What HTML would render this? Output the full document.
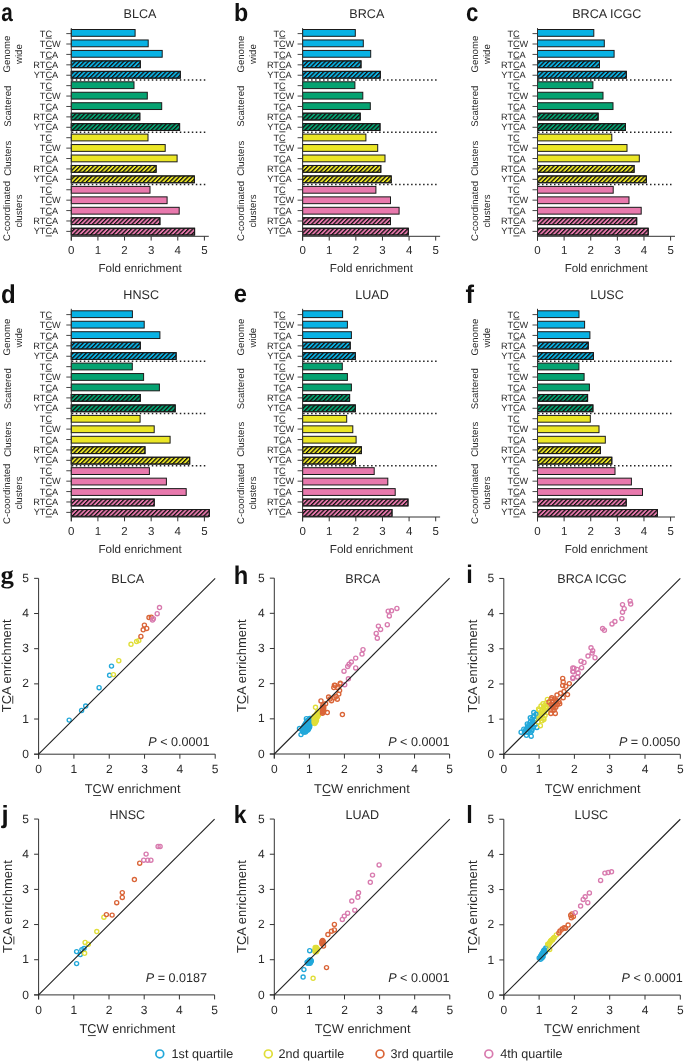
<!DOCTYPE html><html><head><meta charset="utf-8"><style>html,body{margin:0;padding:0;background:#fff;width:685px;height:1061px;overflow:hidden} svg{display:block;will-change:transform} text{font-family:"Liberation Sans", sans-serif;fill:#2a2a2a;text-rendering:geometricPrecision} .bl{font-size:9.2px} .tk{font-size:11.5px} .ax{font-size:11.6px} .ti{font-size:12.6px} .gl{font-size:9.6px} .tk2{font-size:12px} .ti2{font-size:12.6px} .pv{font-size:12.6px} .ax2{font-size:12.75px} .ax3{font-size:12.95px} .lt{font-family:"Liberation Sans",sans-serif;font-weight:bold;font-size:25px;fill:#111} .lg{font-size:12.6px}</style></head><body>
<svg width="685" height="1061" viewBox="0 0 685 1061">
<defs><pattern id="hatch" patternUnits="userSpaceOnUse" width="3.1" height="3.1" patternTransform="rotate(45)"><rect x="0" y="0" width="1.3" height="3.1" fill="#111"/></pattern></defs>
<rect width="685" height="1061" fill="#fff"/>
<rect x="71.30" y="29.50" width="63.80" height="6.80" fill="#08b2e4" stroke="#1a1a1a" stroke-width="1"/>
<line x1="66.30" y1="33.60" x2="71.30" y2="33.60" stroke="#333" stroke-width="0.9"/>
<g transform="translate(45.40,36.70) scale(1,1.0)">
<text x="0" y="0" class="bl" text-anchor="end">T</text>
<text x="0" y="0" class="bl">C</text>
</g>
<rect x="45.60" y="37.70" width="6.2" height="0.9" fill="#333"/>
<rect x="71.30" y="39.96" width="76.90" height="6.80" fill="#08b2e4" stroke="#1a1a1a" stroke-width="1"/>
<line x1="66.30" y1="44.01" x2="71.30" y2="44.01" stroke="#333" stroke-width="0.9"/>
<g transform="translate(45.40,47.11) scale(1,1.0)">
<text x="0" y="0" class="bl" text-anchor="end">T</text>
<text x="0" y="0" class="bl">C</text>
<text x="6.5" y="0" class="bl">W</text>
</g>
<rect x="45.60" y="48.11" width="6.2" height="0.9" fill="#333"/>
<rect x="71.30" y="50.42" width="90.90" height="6.80" fill="#08b2e4" stroke="#1a1a1a" stroke-width="1"/>
<line x1="66.30" y1="54.42" x2="71.30" y2="54.42" stroke="#333" stroke-width="0.9"/>
<g transform="translate(45.40,57.52) scale(1,1.0)">
<text x="0" y="0" class="bl" text-anchor="end">T</text>
<text x="0" y="0" class="bl">C</text>
<text x="6.5" y="0" class="bl">A</text>
</g>
<rect x="45.60" y="58.52" width="6.2" height="0.9" fill="#333"/>
<rect x="71.30" y="60.88" width="69.00" height="6.80" fill="#08b2e4" stroke="#1a1a1a" stroke-width="1"/>
<rect x="71.30" y="60.88" width="69.00" height="6.80" fill="url(#hatch)" stroke="#1a1a1a" stroke-width="1"/>
<line x1="66.30" y1="64.83" x2="71.30" y2="64.83" stroke="#333" stroke-width="0.9"/>
<g transform="translate(45.40,67.93) scale(1,1.0)">
<text x="0" y="0" class="bl" text-anchor="end">RT</text>
<text x="0" y="0" class="bl">C</text>
<text x="6.5" y="0" class="bl">A</text>
</g>
<rect x="45.60" y="68.93" width="6.2" height="0.9" fill="#333"/>
<rect x="71.30" y="71.34" width="109.00" height="6.80" fill="#08b2e4" stroke="#1a1a1a" stroke-width="1"/>
<rect x="71.30" y="71.34" width="109.00" height="6.80" fill="url(#hatch)" stroke="#1a1a1a" stroke-width="1"/>
<line x1="66.30" y1="75.24" x2="71.30" y2="75.24" stroke="#333" stroke-width="0.9"/>
<g transform="translate(45.40,78.34) scale(1,1.0)">
<text x="0" y="0" class="bl" text-anchor="end">YT</text>
<text x="0" y="0" class="bl">C</text>
<text x="6.5" y="0" class="bl">A</text>
</g>
<rect x="45.60" y="79.34" width="6.2" height="0.9" fill="#333"/>
<rect x="71.30" y="81.80" width="62.70" height="6.80" fill="#05a271" stroke="#1a1a1a" stroke-width="1"/>
<line x1="66.30" y1="85.65" x2="71.30" y2="85.65" stroke="#333" stroke-width="0.9"/>
<g transform="translate(45.40,88.75) scale(1,1.0)">
<text x="0" y="0" class="bl" text-anchor="end">T</text>
<text x="0" y="0" class="bl">C</text>
</g>
<rect x="45.60" y="89.75" width="6.2" height="0.9" fill="#333"/>
<rect x="71.30" y="92.26" width="76.00" height="6.80" fill="#05a271" stroke="#1a1a1a" stroke-width="1"/>
<line x1="66.30" y1="96.06" x2="71.30" y2="96.06" stroke="#333" stroke-width="0.9"/>
<g transform="translate(45.40,99.16) scale(1,1.0)">
<text x="0" y="0" class="bl" text-anchor="end">T</text>
<text x="0" y="0" class="bl">C</text>
<text x="6.5" y="0" class="bl">W</text>
</g>
<rect x="45.60" y="100.16" width="6.2" height="0.9" fill="#333"/>
<rect x="71.30" y="102.72" width="90.40" height="6.80" fill="#05a271" stroke="#1a1a1a" stroke-width="1"/>
<line x1="66.30" y1="106.47" x2="71.30" y2="106.47" stroke="#333" stroke-width="0.9"/>
<g transform="translate(45.40,109.57) scale(1,1.0)">
<text x="0" y="0" class="bl" text-anchor="end">T</text>
<text x="0" y="0" class="bl">C</text>
<text x="6.5" y="0" class="bl">A</text>
</g>
<rect x="45.60" y="110.57" width="6.2" height="0.9" fill="#333"/>
<rect x="71.30" y="113.18" width="68.50" height="6.80" fill="#05a271" stroke="#1a1a1a" stroke-width="1"/>
<rect x="71.30" y="113.18" width="68.50" height="6.80" fill="url(#hatch)" stroke="#1a1a1a" stroke-width="1"/>
<line x1="66.30" y1="116.88" x2="71.30" y2="116.88" stroke="#333" stroke-width="0.9"/>
<g transform="translate(45.40,119.98) scale(1,1.0)">
<text x="0" y="0" class="bl" text-anchor="end">RT</text>
<text x="0" y="0" class="bl">C</text>
<text x="6.5" y="0" class="bl">A</text>
</g>
<rect x="45.60" y="120.98" width="6.2" height="0.9" fill="#333"/>
<rect x="71.30" y="123.64" width="108.30" height="6.80" fill="#05a271" stroke="#1a1a1a" stroke-width="1"/>
<rect x="71.30" y="123.64" width="108.30" height="6.80" fill="url(#hatch)" stroke="#1a1a1a" stroke-width="1"/>
<line x1="66.30" y1="127.29" x2="71.30" y2="127.29" stroke="#333" stroke-width="0.9"/>
<g transform="translate(45.40,130.39) scale(1,1.0)">
<text x="0" y="0" class="bl" text-anchor="end">YT</text>
<text x="0" y="0" class="bl">C</text>
<text x="6.5" y="0" class="bl">A</text>
</g>
<rect x="45.60" y="131.39" width="6.2" height="0.9" fill="#333"/>
<rect x="71.30" y="134.10" width="76.70" height="6.80" fill="#ebe626" stroke="#1a1a1a" stroke-width="1"/>
<line x1="66.30" y1="137.70" x2="71.30" y2="137.70" stroke="#333" stroke-width="0.9"/>
<g transform="translate(45.40,140.80) scale(1,1.0)">
<text x="0" y="0" class="bl" text-anchor="end">T</text>
<text x="0" y="0" class="bl">C</text>
</g>
<rect x="45.60" y="141.80" width="6.2" height="0.9" fill="#333"/>
<rect x="71.30" y="144.56" width="93.90" height="6.80" fill="#ebe626" stroke="#1a1a1a" stroke-width="1"/>
<line x1="66.30" y1="148.11" x2="71.30" y2="148.11" stroke="#333" stroke-width="0.9"/>
<g transform="translate(45.40,151.21) scale(1,1.0)">
<text x="0" y="0" class="bl" text-anchor="end">T</text>
<text x="0" y="0" class="bl">C</text>
<text x="6.5" y="0" class="bl">W</text>
</g>
<rect x="45.60" y="152.21" width="6.2" height="0.9" fill="#333"/>
<rect x="71.30" y="155.02" width="105.80" height="6.80" fill="#ebe626" stroke="#1a1a1a" stroke-width="1"/>
<line x1="66.30" y1="158.52" x2="71.30" y2="158.52" stroke="#333" stroke-width="0.9"/>
<g transform="translate(45.40,161.62) scale(1,1.0)">
<text x="0" y="0" class="bl" text-anchor="end">T</text>
<text x="0" y="0" class="bl">C</text>
<text x="6.5" y="0" class="bl">A</text>
</g>
<rect x="45.60" y="162.62" width="6.2" height="0.9" fill="#333"/>
<rect x="71.30" y="165.48" width="84.80" height="6.80" fill="#ebe626" stroke="#1a1a1a" stroke-width="1"/>
<rect x="71.30" y="165.48" width="84.80" height="6.80" fill="url(#hatch)" stroke="#1a1a1a" stroke-width="1"/>
<line x1="66.30" y1="168.93" x2="71.30" y2="168.93" stroke="#333" stroke-width="0.9"/>
<g transform="translate(45.40,172.03) scale(1,1.0)">
<text x="0" y="0" class="bl" text-anchor="end">RT</text>
<text x="0" y="0" class="bl">C</text>
<text x="6.5" y="0" class="bl">A</text>
</g>
<rect x="45.60" y="173.03" width="6.2" height="0.9" fill="#333"/>
<rect x="71.30" y="175.94" width="123.00" height="6.80" fill="#ebe626" stroke="#1a1a1a" stroke-width="1"/>
<rect x="71.30" y="175.94" width="123.00" height="6.80" fill="url(#hatch)" stroke="#1a1a1a" stroke-width="1"/>
<line x1="66.30" y1="179.34" x2="71.30" y2="179.34" stroke="#333" stroke-width="0.9"/>
<g transform="translate(45.40,182.44) scale(1,1.0)">
<text x="0" y="0" class="bl" text-anchor="end">YT</text>
<text x="0" y="0" class="bl">C</text>
<text x="6.5" y="0" class="bl">A</text>
</g>
<rect x="45.60" y="183.44" width="6.2" height="0.9" fill="#333"/>
<rect x="71.30" y="186.40" width="78.70" height="6.80" fill="#e879ad" stroke="#1a1a1a" stroke-width="1"/>
<line x1="66.30" y1="189.75" x2="71.30" y2="189.75" stroke="#333" stroke-width="0.9"/>
<g transform="translate(45.40,192.85) scale(1,1.0)">
<text x="0" y="0" class="bl" text-anchor="end">T</text>
<text x="0" y="0" class="bl">C</text>
</g>
<rect x="45.60" y="193.85" width="6.2" height="0.9" fill="#333"/>
<rect x="71.30" y="196.86" width="95.80" height="6.80" fill="#e879ad" stroke="#1a1a1a" stroke-width="1"/>
<line x1="66.30" y1="200.16" x2="71.30" y2="200.16" stroke="#333" stroke-width="0.9"/>
<g transform="translate(45.40,203.26) scale(1,1.0)">
<text x="0" y="0" class="bl" text-anchor="end">T</text>
<text x="0" y="0" class="bl">C</text>
<text x="6.5" y="0" class="bl">W</text>
</g>
<rect x="45.60" y="204.26" width="6.2" height="0.9" fill="#333"/>
<rect x="71.30" y="207.32" width="107.90" height="6.80" fill="#e879ad" stroke="#1a1a1a" stroke-width="1"/>
<line x1="66.30" y1="210.57" x2="71.30" y2="210.57" stroke="#333" stroke-width="0.9"/>
<g transform="translate(45.40,213.67) scale(1,1.0)">
<text x="0" y="0" class="bl" text-anchor="end">T</text>
<text x="0" y="0" class="bl">C</text>
<text x="6.5" y="0" class="bl">A</text>
</g>
<rect x="45.60" y="214.67" width="6.2" height="0.9" fill="#333"/>
<rect x="71.30" y="217.78" width="88.60" height="6.80" fill="#e879ad" stroke="#1a1a1a" stroke-width="1"/>
<rect x="71.30" y="217.78" width="88.60" height="6.80" fill="url(#hatch)" stroke="#1a1a1a" stroke-width="1"/>
<line x1="66.30" y1="220.98" x2="71.30" y2="220.98" stroke="#333" stroke-width="0.9"/>
<g transform="translate(45.40,224.08) scale(1,1.0)">
<text x="0" y="0" class="bl" text-anchor="end">RT</text>
<text x="0" y="0" class="bl">C</text>
<text x="6.5" y="0" class="bl">A</text>
</g>
<rect x="45.60" y="225.08" width="6.2" height="0.9" fill="#333"/>
<rect x="71.30" y="228.24" width="123.30" height="6.80" fill="#e879ad" stroke="#1a1a1a" stroke-width="1"/>
<rect x="71.30" y="228.24" width="123.30" height="6.80" fill="url(#hatch)" stroke="#1a1a1a" stroke-width="1"/>
<line x1="66.30" y1="231.39" x2="71.30" y2="231.39" stroke="#333" stroke-width="0.9"/>
<g transform="translate(45.40,234.49) scale(1,1.0)">
<text x="0" y="0" class="bl" text-anchor="end">YT</text>
<text x="0" y="0" class="bl">C</text>
<text x="6.5" y="0" class="bl">A</text>
</g>
<rect x="45.60" y="235.49" width="6.2" height="0.9" fill="#333"/>
<line x1="71.80" y1="79.90" x2="207.30" y2="79.90" stroke="#222" stroke-width="1.5" stroke-dasharray="1.5 2.5"/>
<line x1="71.80" y1="132.20" x2="207.30" y2="132.20" stroke="#222" stroke-width="1.5" stroke-dasharray="1.5 2.5"/>
<line x1="71.80" y1="184.50" x2="207.30" y2="184.50" stroke="#222" stroke-width="1.5" stroke-dasharray="1.5 2.5"/>
<line x1="71.30" y1="28.10" x2="71.30" y2="240.60" stroke="#333" stroke-width="1"/>
<line x1="71.30" y1="236.30" x2="208.80" y2="236.30" stroke="#333" stroke-width="1"/>
<line x1="71.30" y1="236.30" x2="71.30" y2="240.60" stroke="#333" stroke-width="1"/>
<text x="71.30" y="254.30" class="tk" text-anchor="middle">0</text>
<line x1="97.92" y1="236.30" x2="97.92" y2="240.60" stroke="#333" stroke-width="1"/>
<text x="97.92" y="254.30" class="tk" text-anchor="middle">1</text>
<line x1="124.54" y1="236.30" x2="124.54" y2="240.60" stroke="#333" stroke-width="1"/>
<text x="124.54" y="254.30" class="tk" text-anchor="middle">2</text>
<line x1="151.16" y1="236.30" x2="151.16" y2="240.60" stroke="#333" stroke-width="1"/>
<text x="151.16" y="254.30" class="tk" text-anchor="middle">3</text>
<line x1="177.78" y1="236.30" x2="177.78" y2="240.60" stroke="#333" stroke-width="1"/>
<text x="177.78" y="254.30" class="tk" text-anchor="middle">4</text>
<line x1="204.40" y1="236.30" x2="204.40" y2="240.60" stroke="#333" stroke-width="1"/>
<text x="204.40" y="254.30" class="tk" text-anchor="middle">5</text>
<text x="140.10" y="272.30" class="ax" text-anchor="middle">Fold enrichment</text>
<text x="140.00" y="17.50" class="ti" text-anchor="middle">BLCA</text>
<text transform="translate(10.40,54.12) rotate(-90)" class="gl" text-anchor="middle">Genome</text>
<text transform="translate(21.90,54.12) rotate(-90)" class="gl" text-anchor="middle">wide</text>
<text transform="translate(10.60,106.17) rotate(-90)" class="gl" text-anchor="middle">Scattered</text>
<text transform="translate(10.60,158.22) rotate(-90)" class="gl" text-anchor="middle">Clusters</text>
<text transform="translate(10.40,210.97) rotate(-90)" class="gl" text-anchor="middle">C-coordinated</text>
<text transform="translate(21.90,211.07) rotate(-90)" class="gl" text-anchor="middle">clusters</text>
<rect x="302.60" y="29.50" width="52.70" height="6.80" fill="#08b2e4" stroke="#1a1a1a" stroke-width="1"/>
<line x1="297.60" y1="33.60" x2="302.60" y2="33.60" stroke="#333" stroke-width="0.9"/>
<g transform="translate(279.00,36.70) scale(1,1.0)">
<text x="0" y="0" class="bl" text-anchor="end">T</text>
<text x="0" y="0" class="bl">C</text>
</g>
<rect x="279.20" y="37.70" width="6.2" height="0.9" fill="#333"/>
<rect x="302.60" y="39.96" width="60.70" height="6.80" fill="#08b2e4" stroke="#1a1a1a" stroke-width="1"/>
<line x1="297.60" y1="44.01" x2="302.60" y2="44.01" stroke="#333" stroke-width="0.9"/>
<g transform="translate(279.00,47.11) scale(1,1.0)">
<text x="0" y="0" class="bl" text-anchor="end">T</text>
<text x="0" y="0" class="bl">C</text>
<text x="6.5" y="0" class="bl">W</text>
</g>
<rect x="279.20" y="48.11" width="6.2" height="0.9" fill="#333"/>
<rect x="302.60" y="50.42" width="68.10" height="6.80" fill="#08b2e4" stroke="#1a1a1a" stroke-width="1"/>
<line x1="297.60" y1="54.42" x2="302.60" y2="54.42" stroke="#333" stroke-width="0.9"/>
<g transform="translate(279.00,57.52) scale(1,1.0)">
<text x="0" y="0" class="bl" text-anchor="end">T</text>
<text x="0" y="0" class="bl">C</text>
<text x="6.5" y="0" class="bl">A</text>
</g>
<rect x="279.20" y="58.52" width="6.2" height="0.9" fill="#333"/>
<rect x="302.60" y="60.88" width="58.40" height="6.80" fill="#08b2e4" stroke="#1a1a1a" stroke-width="1"/>
<rect x="302.60" y="60.88" width="58.40" height="6.80" fill="url(#hatch)" stroke="#1a1a1a" stroke-width="1"/>
<line x1="297.60" y1="64.83" x2="302.60" y2="64.83" stroke="#333" stroke-width="0.9"/>
<g transform="translate(279.00,67.93) scale(1,1.0)">
<text x="0" y="0" class="bl" text-anchor="end">RT</text>
<text x="0" y="0" class="bl">C</text>
<text x="6.5" y="0" class="bl">A</text>
</g>
<rect x="279.20" y="68.93" width="6.2" height="0.9" fill="#333"/>
<rect x="302.60" y="71.34" width="77.70" height="6.80" fill="#08b2e4" stroke="#1a1a1a" stroke-width="1"/>
<rect x="302.60" y="71.34" width="77.70" height="6.80" fill="url(#hatch)" stroke="#1a1a1a" stroke-width="1"/>
<line x1="297.60" y1="75.24" x2="302.60" y2="75.24" stroke="#333" stroke-width="0.9"/>
<g transform="translate(279.00,78.34) scale(1,1.0)">
<text x="0" y="0" class="bl" text-anchor="end">YT</text>
<text x="0" y="0" class="bl">C</text>
<text x="6.5" y="0" class="bl">A</text>
</g>
<rect x="279.20" y="79.34" width="6.2" height="0.9" fill="#333"/>
<rect x="302.60" y="81.80" width="52.30" height="6.80" fill="#05a271" stroke="#1a1a1a" stroke-width="1"/>
<line x1="297.60" y1="85.65" x2="302.60" y2="85.65" stroke="#333" stroke-width="0.9"/>
<g transform="translate(279.00,88.75) scale(1,1.0)">
<text x="0" y="0" class="bl" text-anchor="end">T</text>
<text x="0" y="0" class="bl">C</text>
</g>
<rect x="279.20" y="89.75" width="6.2" height="0.9" fill="#333"/>
<rect x="302.60" y="92.26" width="60.20" height="6.80" fill="#05a271" stroke="#1a1a1a" stroke-width="1"/>
<line x1="297.60" y1="96.06" x2="302.60" y2="96.06" stroke="#333" stroke-width="0.9"/>
<g transform="translate(279.00,99.16) scale(1,1.0)">
<text x="0" y="0" class="bl" text-anchor="end">T</text>
<text x="0" y="0" class="bl">C</text>
<text x="6.5" y="0" class="bl">W</text>
</g>
<rect x="279.20" y="100.16" width="6.2" height="0.9" fill="#333"/>
<rect x="302.60" y="102.72" width="67.70" height="6.80" fill="#05a271" stroke="#1a1a1a" stroke-width="1"/>
<line x1="297.60" y1="106.47" x2="302.60" y2="106.47" stroke="#333" stroke-width="0.9"/>
<g transform="translate(279.00,109.57) scale(1,1.0)">
<text x="0" y="0" class="bl" text-anchor="end">T</text>
<text x="0" y="0" class="bl">C</text>
<text x="6.5" y="0" class="bl">A</text>
</g>
<rect x="279.20" y="110.57" width="6.2" height="0.9" fill="#333"/>
<rect x="302.60" y="113.18" width="57.60" height="6.80" fill="#05a271" stroke="#1a1a1a" stroke-width="1"/>
<rect x="302.60" y="113.18" width="57.60" height="6.80" fill="url(#hatch)" stroke="#1a1a1a" stroke-width="1"/>
<line x1="297.60" y1="116.88" x2="302.60" y2="116.88" stroke="#333" stroke-width="0.9"/>
<g transform="translate(279.00,119.98) scale(1,1.0)">
<text x="0" y="0" class="bl" text-anchor="end">RT</text>
<text x="0" y="0" class="bl">C</text>
<text x="6.5" y="0" class="bl">A</text>
</g>
<rect x="279.20" y="120.98" width="6.2" height="0.9" fill="#333"/>
<rect x="302.60" y="123.64" width="77.40" height="6.80" fill="#05a271" stroke="#1a1a1a" stroke-width="1"/>
<rect x="302.60" y="123.64" width="77.40" height="6.80" fill="url(#hatch)" stroke="#1a1a1a" stroke-width="1"/>
<line x1="297.60" y1="127.29" x2="302.60" y2="127.29" stroke="#333" stroke-width="0.9"/>
<g transform="translate(279.00,130.39) scale(1,1.0)">
<text x="0" y="0" class="bl" text-anchor="end">YT</text>
<text x="0" y="0" class="bl">C</text>
<text x="6.5" y="0" class="bl">A</text>
</g>
<rect x="279.20" y="131.39" width="6.2" height="0.9" fill="#333"/>
<rect x="302.60" y="134.10" width="63.30" height="6.80" fill="#ebe626" stroke="#1a1a1a" stroke-width="1"/>
<line x1="297.60" y1="137.70" x2="302.60" y2="137.70" stroke="#333" stroke-width="0.9"/>
<g transform="translate(279.00,140.80) scale(1,1.0)">
<text x="0" y="0" class="bl" text-anchor="end">T</text>
<text x="0" y="0" class="bl">C</text>
</g>
<rect x="279.20" y="141.80" width="6.2" height="0.9" fill="#333"/>
<rect x="302.60" y="144.56" width="75.10" height="6.80" fill="#ebe626" stroke="#1a1a1a" stroke-width="1"/>
<line x1="297.60" y1="148.11" x2="302.60" y2="148.11" stroke="#333" stroke-width="0.9"/>
<g transform="translate(279.00,151.21) scale(1,1.0)">
<text x="0" y="0" class="bl" text-anchor="end">T</text>
<text x="0" y="0" class="bl">C</text>
<text x="6.5" y="0" class="bl">W</text>
</g>
<rect x="279.20" y="152.21" width="6.2" height="0.9" fill="#333"/>
<rect x="302.60" y="155.02" width="82.40" height="6.80" fill="#ebe626" stroke="#1a1a1a" stroke-width="1"/>
<line x1="297.60" y1="158.52" x2="302.60" y2="158.52" stroke="#333" stroke-width="0.9"/>
<g transform="translate(279.00,161.62) scale(1,1.0)">
<text x="0" y="0" class="bl" text-anchor="end">T</text>
<text x="0" y="0" class="bl">C</text>
<text x="6.5" y="0" class="bl">A</text>
</g>
<rect x="279.20" y="162.62" width="6.2" height="0.9" fill="#333"/>
<rect x="302.60" y="165.48" width="78.20" height="6.80" fill="#ebe626" stroke="#1a1a1a" stroke-width="1"/>
<rect x="302.60" y="165.48" width="78.20" height="6.80" fill="url(#hatch)" stroke="#1a1a1a" stroke-width="1"/>
<line x1="297.60" y1="168.93" x2="302.60" y2="168.93" stroke="#333" stroke-width="0.9"/>
<g transform="translate(279.00,172.03) scale(1,1.0)">
<text x="0" y="0" class="bl" text-anchor="end">RT</text>
<text x="0" y="0" class="bl">C</text>
<text x="6.5" y="0" class="bl">A</text>
</g>
<rect x="279.20" y="173.03" width="6.2" height="0.9" fill="#333"/>
<rect x="302.60" y="175.94" width="88.60" height="6.80" fill="#ebe626" stroke="#1a1a1a" stroke-width="1"/>
<rect x="302.60" y="175.94" width="88.60" height="6.80" fill="url(#hatch)" stroke="#1a1a1a" stroke-width="1"/>
<line x1="297.60" y1="179.34" x2="302.60" y2="179.34" stroke="#333" stroke-width="0.9"/>
<g transform="translate(279.00,182.44) scale(1,1.0)">
<text x="0" y="0" class="bl" text-anchor="end">YT</text>
<text x="0" y="0" class="bl">C</text>
<text x="6.5" y="0" class="bl">A</text>
</g>
<rect x="279.20" y="183.44" width="6.2" height="0.9" fill="#333"/>
<rect x="302.60" y="186.40" width="73.30" height="6.80" fill="#e879ad" stroke="#1a1a1a" stroke-width="1"/>
<line x1="297.60" y1="189.75" x2="302.60" y2="189.75" stroke="#333" stroke-width="0.9"/>
<g transform="translate(279.00,192.85) scale(1,1.0)">
<text x="0" y="0" class="bl" text-anchor="end">T</text>
<text x="0" y="0" class="bl">C</text>
</g>
<rect x="279.20" y="193.85" width="6.2" height="0.9" fill="#333"/>
<rect x="302.60" y="196.86" width="87.90" height="6.80" fill="#e879ad" stroke="#1a1a1a" stroke-width="1"/>
<line x1="297.60" y1="200.16" x2="302.60" y2="200.16" stroke="#333" stroke-width="0.9"/>
<g transform="translate(279.00,203.26) scale(1,1.0)">
<text x="0" y="0" class="bl" text-anchor="end">T</text>
<text x="0" y="0" class="bl">C</text>
<text x="6.5" y="0" class="bl">W</text>
</g>
<rect x="279.20" y="204.26" width="6.2" height="0.9" fill="#333"/>
<rect x="302.60" y="207.32" width="96.50" height="6.80" fill="#e879ad" stroke="#1a1a1a" stroke-width="1"/>
<line x1="297.60" y1="210.57" x2="302.60" y2="210.57" stroke="#333" stroke-width="0.9"/>
<g transform="translate(279.00,213.67) scale(1,1.0)">
<text x="0" y="0" class="bl" text-anchor="end">T</text>
<text x="0" y="0" class="bl">C</text>
<text x="6.5" y="0" class="bl">A</text>
</g>
<rect x="279.20" y="214.67" width="6.2" height="0.9" fill="#333"/>
<rect x="302.60" y="217.78" width="87.90" height="6.80" fill="#e879ad" stroke="#1a1a1a" stroke-width="1"/>
<rect x="302.60" y="217.78" width="87.90" height="6.80" fill="url(#hatch)" stroke="#1a1a1a" stroke-width="1"/>
<line x1="297.60" y1="220.98" x2="302.60" y2="220.98" stroke="#333" stroke-width="0.9"/>
<g transform="translate(279.00,224.08) scale(1,1.0)">
<text x="0" y="0" class="bl" text-anchor="end">RT</text>
<text x="0" y="0" class="bl">C</text>
<text x="6.5" y="0" class="bl">A</text>
</g>
<rect x="279.20" y="225.08" width="6.2" height="0.9" fill="#333"/>
<rect x="302.60" y="228.24" width="105.70" height="6.80" fill="#e879ad" stroke="#1a1a1a" stroke-width="1"/>
<rect x="302.60" y="228.24" width="105.70" height="6.80" fill="url(#hatch)" stroke="#1a1a1a" stroke-width="1"/>
<line x1="297.60" y1="231.39" x2="302.60" y2="231.39" stroke="#333" stroke-width="0.9"/>
<g transform="translate(279.00,234.49) scale(1,1.0)">
<text x="0" y="0" class="bl" text-anchor="end">YT</text>
<text x="0" y="0" class="bl">C</text>
<text x="6.5" y="0" class="bl">A</text>
</g>
<rect x="279.20" y="235.49" width="6.2" height="0.9" fill="#333"/>
<line x1="303.10" y1="79.90" x2="438.60" y2="79.90" stroke="#222" stroke-width="1.5" stroke-dasharray="1.5 2.5"/>
<line x1="303.10" y1="132.20" x2="438.60" y2="132.20" stroke="#222" stroke-width="1.5" stroke-dasharray="1.5 2.5"/>
<line x1="303.10" y1="184.50" x2="438.60" y2="184.50" stroke="#222" stroke-width="1.5" stroke-dasharray="1.5 2.5"/>
<line x1="302.60" y1="28.10" x2="302.60" y2="240.60" stroke="#333" stroke-width="1"/>
<line x1="302.60" y1="236.30" x2="440.10" y2="236.30" stroke="#333" stroke-width="1"/>
<line x1="302.60" y1="236.30" x2="302.60" y2="240.60" stroke="#333" stroke-width="1"/>
<text x="302.60" y="254.30" class="tk" text-anchor="middle">0</text>
<line x1="329.22" y1="236.30" x2="329.22" y2="240.60" stroke="#333" stroke-width="1"/>
<text x="329.22" y="254.30" class="tk" text-anchor="middle">1</text>
<line x1="355.84" y1="236.30" x2="355.84" y2="240.60" stroke="#333" stroke-width="1"/>
<text x="355.84" y="254.30" class="tk" text-anchor="middle">2</text>
<line x1="382.46" y1="236.30" x2="382.46" y2="240.60" stroke="#333" stroke-width="1"/>
<text x="382.46" y="254.30" class="tk" text-anchor="middle">3</text>
<line x1="409.08" y1="236.30" x2="409.08" y2="240.60" stroke="#333" stroke-width="1"/>
<text x="409.08" y="254.30" class="tk" text-anchor="middle">4</text>
<line x1="435.70" y1="236.30" x2="435.70" y2="240.60" stroke="#333" stroke-width="1"/>
<text x="435.70" y="254.30" class="tk" text-anchor="middle">5</text>
<text x="371.40" y="272.30" class="ax" text-anchor="middle">Fold enrichment</text>
<text x="366.80" y="17.50" class="ti" text-anchor="middle">BRCA</text>
<text transform="translate(244.00,54.12) rotate(-90)" class="gl" text-anchor="middle">Genome</text>
<text transform="translate(255.50,54.12) rotate(-90)" class="gl" text-anchor="middle">wide</text>
<text transform="translate(244.20,106.17) rotate(-90)" class="gl" text-anchor="middle">Scattered</text>
<text transform="translate(244.20,158.22) rotate(-90)" class="gl" text-anchor="middle">Clusters</text>
<text transform="translate(244.00,210.97) rotate(-90)" class="gl" text-anchor="middle">C-coordinated</text>
<text transform="translate(255.50,211.07) rotate(-90)" class="gl" text-anchor="middle">clusters</text>
<rect x="537.50" y="29.50" width="56.30" height="6.80" fill="#08b2e4" stroke="#1a1a1a" stroke-width="1"/>
<line x1="532.50" y1="33.60" x2="537.50" y2="33.60" stroke="#333" stroke-width="0.9"/>
<g transform="translate(513.10,36.70) scale(1,1.0)">
<text x="0" y="0" class="bl" text-anchor="end">T</text>
<text x="0" y="0" class="bl">C</text>
</g>
<rect x="513.30" y="37.70" width="6.2" height="0.9" fill="#333"/>
<rect x="537.50" y="39.96" width="66.80" height="6.80" fill="#08b2e4" stroke="#1a1a1a" stroke-width="1"/>
<line x1="532.50" y1="44.01" x2="537.50" y2="44.01" stroke="#333" stroke-width="0.9"/>
<g transform="translate(513.10,47.11) scale(1,1.0)">
<text x="0" y="0" class="bl" text-anchor="end">T</text>
<text x="0" y="0" class="bl">C</text>
<text x="6.5" y="0" class="bl">W</text>
</g>
<rect x="513.30" y="48.11" width="6.2" height="0.9" fill="#333"/>
<rect x="537.50" y="50.42" width="76.60" height="6.80" fill="#08b2e4" stroke="#1a1a1a" stroke-width="1"/>
<line x1="532.50" y1="54.42" x2="537.50" y2="54.42" stroke="#333" stroke-width="0.9"/>
<g transform="translate(513.10,57.52) scale(1,1.0)">
<text x="0" y="0" class="bl" text-anchor="end">T</text>
<text x="0" y="0" class="bl">C</text>
<text x="6.5" y="0" class="bl">A</text>
</g>
<rect x="513.30" y="58.52" width="6.2" height="0.9" fill="#333"/>
<rect x="537.50" y="60.88" width="62.00" height="6.80" fill="#08b2e4" stroke="#1a1a1a" stroke-width="1"/>
<rect x="537.50" y="60.88" width="62.00" height="6.80" fill="url(#hatch)" stroke="#1a1a1a" stroke-width="1"/>
<line x1="532.50" y1="64.83" x2="537.50" y2="64.83" stroke="#333" stroke-width="0.9"/>
<g transform="translate(513.10,67.93) scale(1,1.0)">
<text x="0" y="0" class="bl" text-anchor="end">RT</text>
<text x="0" y="0" class="bl">C</text>
<text x="6.5" y="0" class="bl">A</text>
</g>
<rect x="513.30" y="68.93" width="6.2" height="0.9" fill="#333"/>
<rect x="537.50" y="71.34" width="88.80" height="6.80" fill="#08b2e4" stroke="#1a1a1a" stroke-width="1"/>
<rect x="537.50" y="71.34" width="88.80" height="6.80" fill="url(#hatch)" stroke="#1a1a1a" stroke-width="1"/>
<line x1="532.50" y1="75.24" x2="537.50" y2="75.24" stroke="#333" stroke-width="0.9"/>
<g transform="translate(513.10,78.34) scale(1,1.0)">
<text x="0" y="0" class="bl" text-anchor="end">YT</text>
<text x="0" y="0" class="bl">C</text>
<text x="6.5" y="0" class="bl">A</text>
</g>
<rect x="513.30" y="79.34" width="6.2" height="0.9" fill="#333"/>
<rect x="537.50" y="81.80" width="55.40" height="6.80" fill="#05a271" stroke="#1a1a1a" stroke-width="1"/>
<line x1="532.50" y1="85.65" x2="537.50" y2="85.65" stroke="#333" stroke-width="0.9"/>
<g transform="translate(513.10,88.75) scale(1,1.0)">
<text x="0" y="0" class="bl" text-anchor="end">T</text>
<text x="0" y="0" class="bl">C</text>
</g>
<rect x="513.30" y="89.75" width="6.2" height="0.9" fill="#333"/>
<rect x="537.50" y="92.26" width="65.50" height="6.80" fill="#05a271" stroke="#1a1a1a" stroke-width="1"/>
<line x1="532.50" y1="96.06" x2="537.50" y2="96.06" stroke="#333" stroke-width="0.9"/>
<g transform="translate(513.10,99.16) scale(1,1.0)">
<text x="0" y="0" class="bl" text-anchor="end">T</text>
<text x="0" y="0" class="bl">C</text>
<text x="6.5" y="0" class="bl">W</text>
</g>
<rect x="513.30" y="100.16" width="6.2" height="0.9" fill="#333"/>
<rect x="537.50" y="102.72" width="75.50" height="6.80" fill="#05a271" stroke="#1a1a1a" stroke-width="1"/>
<line x1="532.50" y1="106.47" x2="537.50" y2="106.47" stroke="#333" stroke-width="0.9"/>
<g transform="translate(513.10,109.57) scale(1,1.0)">
<text x="0" y="0" class="bl" text-anchor="end">T</text>
<text x="0" y="0" class="bl">C</text>
<text x="6.5" y="0" class="bl">A</text>
</g>
<rect x="513.30" y="110.57" width="6.2" height="0.9" fill="#333"/>
<rect x="537.50" y="113.18" width="60.60" height="6.80" fill="#05a271" stroke="#1a1a1a" stroke-width="1"/>
<rect x="537.50" y="113.18" width="60.60" height="6.80" fill="url(#hatch)" stroke="#1a1a1a" stroke-width="1"/>
<line x1="532.50" y1="116.88" x2="537.50" y2="116.88" stroke="#333" stroke-width="0.9"/>
<g transform="translate(513.10,119.98) scale(1,1.0)">
<text x="0" y="0" class="bl" text-anchor="end">RT</text>
<text x="0" y="0" class="bl">C</text>
<text x="6.5" y="0" class="bl">A</text>
</g>
<rect x="513.30" y="120.98" width="6.2" height="0.9" fill="#333"/>
<rect x="537.50" y="123.64" width="88.00" height="6.80" fill="#05a271" stroke="#1a1a1a" stroke-width="1"/>
<rect x="537.50" y="123.64" width="88.00" height="6.80" fill="url(#hatch)" stroke="#1a1a1a" stroke-width="1"/>
<line x1="532.50" y1="127.29" x2="537.50" y2="127.29" stroke="#333" stroke-width="0.9"/>
<g transform="translate(513.10,130.39) scale(1,1.0)">
<text x="0" y="0" class="bl" text-anchor="end">YT</text>
<text x="0" y="0" class="bl">C</text>
<text x="6.5" y="0" class="bl">A</text>
</g>
<rect x="513.30" y="131.39" width="6.2" height="0.9" fill="#333"/>
<rect x="537.50" y="134.10" width="74.30" height="6.80" fill="#ebe626" stroke="#1a1a1a" stroke-width="1"/>
<line x1="532.50" y1="137.70" x2="537.50" y2="137.70" stroke="#333" stroke-width="0.9"/>
<g transform="translate(513.10,140.80) scale(1,1.0)">
<text x="0" y="0" class="bl" text-anchor="end">T</text>
<text x="0" y="0" class="bl">C</text>
</g>
<rect x="513.30" y="141.80" width="6.2" height="0.9" fill="#333"/>
<rect x="537.50" y="144.56" width="89.50" height="6.80" fill="#ebe626" stroke="#1a1a1a" stroke-width="1"/>
<line x1="532.50" y1="148.11" x2="537.50" y2="148.11" stroke="#333" stroke-width="0.9"/>
<g transform="translate(513.10,151.21) scale(1,1.0)">
<text x="0" y="0" class="bl" text-anchor="end">T</text>
<text x="0" y="0" class="bl">C</text>
<text x="6.5" y="0" class="bl">W</text>
</g>
<rect x="513.30" y="152.21" width="6.2" height="0.9" fill="#333"/>
<rect x="537.50" y="155.02" width="101.80" height="6.80" fill="#ebe626" stroke="#1a1a1a" stroke-width="1"/>
<line x1="532.50" y1="158.52" x2="537.50" y2="158.52" stroke="#333" stroke-width="0.9"/>
<g transform="translate(513.10,161.62) scale(1,1.0)">
<text x="0" y="0" class="bl" text-anchor="end">T</text>
<text x="0" y="0" class="bl">C</text>
<text x="6.5" y="0" class="bl">A</text>
</g>
<rect x="513.30" y="162.62" width="6.2" height="0.9" fill="#333"/>
<rect x="537.50" y="165.48" width="96.60" height="6.80" fill="#ebe626" stroke="#1a1a1a" stroke-width="1"/>
<rect x="537.50" y="165.48" width="96.60" height="6.80" fill="url(#hatch)" stroke="#1a1a1a" stroke-width="1"/>
<line x1="532.50" y1="168.93" x2="537.50" y2="168.93" stroke="#333" stroke-width="0.9"/>
<g transform="translate(513.10,172.03) scale(1,1.0)">
<text x="0" y="0" class="bl" text-anchor="end">RT</text>
<text x="0" y="0" class="bl">C</text>
<text x="6.5" y="0" class="bl">A</text>
</g>
<rect x="513.30" y="173.03" width="6.2" height="0.9" fill="#333"/>
<rect x="537.50" y="175.94" width="108.80" height="6.80" fill="#ebe626" stroke="#1a1a1a" stroke-width="1"/>
<rect x="537.50" y="175.94" width="108.80" height="6.80" fill="url(#hatch)" stroke="#1a1a1a" stroke-width="1"/>
<line x1="532.50" y1="179.34" x2="537.50" y2="179.34" stroke="#333" stroke-width="0.9"/>
<g transform="translate(513.10,182.44) scale(1,1.0)">
<text x="0" y="0" class="bl" text-anchor="end">YT</text>
<text x="0" y="0" class="bl">C</text>
<text x="6.5" y="0" class="bl">A</text>
</g>
<rect x="513.30" y="183.44" width="6.2" height="0.9" fill="#333"/>
<rect x="537.50" y="186.40" width="75.70" height="6.80" fill="#e879ad" stroke="#1a1a1a" stroke-width="1"/>
<line x1="532.50" y1="189.75" x2="537.50" y2="189.75" stroke="#333" stroke-width="0.9"/>
<g transform="translate(513.10,192.85) scale(1,1.0)">
<text x="0" y="0" class="bl" text-anchor="end">T</text>
<text x="0" y="0" class="bl">C</text>
</g>
<rect x="513.30" y="193.85" width="6.2" height="0.9" fill="#333"/>
<rect x="537.50" y="196.86" width="91.50" height="6.80" fill="#e879ad" stroke="#1a1a1a" stroke-width="1"/>
<line x1="532.50" y1="200.16" x2="537.50" y2="200.16" stroke="#333" stroke-width="0.9"/>
<g transform="translate(513.10,203.26) scale(1,1.0)">
<text x="0" y="0" class="bl" text-anchor="end">T</text>
<text x="0" y="0" class="bl">C</text>
<text x="6.5" y="0" class="bl">W</text>
</g>
<rect x="513.30" y="204.26" width="6.2" height="0.9" fill="#333"/>
<rect x="537.50" y="207.32" width="103.70" height="6.80" fill="#e879ad" stroke="#1a1a1a" stroke-width="1"/>
<line x1="532.50" y1="210.57" x2="537.50" y2="210.57" stroke="#333" stroke-width="0.9"/>
<g transform="translate(513.10,213.67) scale(1,1.0)">
<text x="0" y="0" class="bl" text-anchor="end">T</text>
<text x="0" y="0" class="bl">C</text>
<text x="6.5" y="0" class="bl">A</text>
</g>
<rect x="513.30" y="214.67" width="6.2" height="0.9" fill="#333"/>
<rect x="537.50" y="217.78" width="99.20" height="6.80" fill="#e879ad" stroke="#1a1a1a" stroke-width="1"/>
<rect x="537.50" y="217.78" width="99.20" height="6.80" fill="url(#hatch)" stroke="#1a1a1a" stroke-width="1"/>
<line x1="532.50" y1="220.98" x2="537.50" y2="220.98" stroke="#333" stroke-width="0.9"/>
<g transform="translate(513.10,224.08) scale(1,1.0)">
<text x="0" y="0" class="bl" text-anchor="end">RT</text>
<text x="0" y="0" class="bl">C</text>
<text x="6.5" y="0" class="bl">A</text>
</g>
<rect x="513.30" y="225.08" width="6.2" height="0.9" fill="#333"/>
<rect x="537.50" y="228.24" width="110.70" height="6.80" fill="#e879ad" stroke="#1a1a1a" stroke-width="1"/>
<rect x="537.50" y="228.24" width="110.70" height="6.80" fill="url(#hatch)" stroke="#1a1a1a" stroke-width="1"/>
<line x1="532.50" y1="231.39" x2="537.50" y2="231.39" stroke="#333" stroke-width="0.9"/>
<g transform="translate(513.10,234.49) scale(1,1.0)">
<text x="0" y="0" class="bl" text-anchor="end">YT</text>
<text x="0" y="0" class="bl">C</text>
<text x="6.5" y="0" class="bl">A</text>
</g>
<rect x="513.30" y="235.49" width="6.2" height="0.9" fill="#333"/>
<line x1="538.00" y1="79.90" x2="673.50" y2="79.90" stroke="#222" stroke-width="1.5" stroke-dasharray="1.5 2.5"/>
<line x1="538.00" y1="132.20" x2="673.50" y2="132.20" stroke="#222" stroke-width="1.5" stroke-dasharray="1.5 2.5"/>
<line x1="538.00" y1="184.50" x2="673.50" y2="184.50" stroke="#222" stroke-width="1.5" stroke-dasharray="1.5 2.5"/>
<line x1="537.50" y1="28.10" x2="537.50" y2="240.60" stroke="#333" stroke-width="1"/>
<line x1="537.50" y1="236.30" x2="675.00" y2="236.30" stroke="#333" stroke-width="1"/>
<line x1="537.50" y1="236.30" x2="537.50" y2="240.60" stroke="#333" stroke-width="1"/>
<text x="537.50" y="254.30" class="tk" text-anchor="middle">0</text>
<line x1="564.12" y1="236.30" x2="564.12" y2="240.60" stroke="#333" stroke-width="1"/>
<text x="564.12" y="254.30" class="tk" text-anchor="middle">1</text>
<line x1="590.74" y1="236.30" x2="590.74" y2="240.60" stroke="#333" stroke-width="1"/>
<text x="590.74" y="254.30" class="tk" text-anchor="middle">2</text>
<line x1="617.36" y1="236.30" x2="617.36" y2="240.60" stroke="#333" stroke-width="1"/>
<text x="617.36" y="254.30" class="tk" text-anchor="middle">3</text>
<line x1="643.98" y1="236.30" x2="643.98" y2="240.60" stroke="#333" stroke-width="1"/>
<text x="643.98" y="254.30" class="tk" text-anchor="middle">4</text>
<line x1="670.60" y1="236.30" x2="670.60" y2="240.60" stroke="#333" stroke-width="1"/>
<text x="670.60" y="254.30" class="tk" text-anchor="middle">5</text>
<text x="606.30" y="272.30" class="ax" text-anchor="middle">Fold enrichment</text>
<text x="606.80" y="17.50" class="ti" text-anchor="middle">BRCA ICGC</text>
<text transform="translate(478.10,54.12) rotate(-90)" class="gl" text-anchor="middle">Genome</text>
<text transform="translate(489.60,54.12) rotate(-90)" class="gl" text-anchor="middle">wide</text>
<text transform="translate(478.30,106.17) rotate(-90)" class="gl" text-anchor="middle">Scattered</text>
<text transform="translate(478.30,158.22) rotate(-90)" class="gl" text-anchor="middle">Clusters</text>
<text transform="translate(478.10,210.97) rotate(-90)" class="gl" text-anchor="middle">C-coordinated</text>
<text transform="translate(489.60,211.07) rotate(-90)" class="gl" text-anchor="middle">clusters</text>
<rect x="71.30" y="310.80" width="61.10" height="6.80" fill="#08b2e4" stroke="#1a1a1a" stroke-width="1"/>
<line x1="66.30" y1="314.60" x2="71.30" y2="314.60" stroke="#333" stroke-width="0.9"/>
<g transform="translate(45.40,317.70) scale(1,1.0)">
<text x="0" y="0" class="bl" text-anchor="end">T</text>
<text x="0" y="0" class="bl">C</text>
</g>
<rect x="45.60" y="318.70" width="6.2" height="0.9" fill="#333"/>
<rect x="71.30" y="321.26" width="72.90" height="6.80" fill="#08b2e4" stroke="#1a1a1a" stroke-width="1"/>
<line x1="66.30" y1="325.01" x2="71.30" y2="325.01" stroke="#333" stroke-width="0.9"/>
<g transform="translate(45.40,328.11) scale(1,1.0)">
<text x="0" y="0" class="bl" text-anchor="end">T</text>
<text x="0" y="0" class="bl">C</text>
<text x="6.5" y="0" class="bl">W</text>
</g>
<rect x="45.60" y="329.11" width="6.2" height="0.9" fill="#333"/>
<rect x="71.30" y="331.72" width="88.60" height="6.80" fill="#08b2e4" stroke="#1a1a1a" stroke-width="1"/>
<line x1="66.30" y1="335.42" x2="71.30" y2="335.42" stroke="#333" stroke-width="0.9"/>
<g transform="translate(45.40,338.52) scale(1,1.0)">
<text x="0" y="0" class="bl" text-anchor="end">T</text>
<text x="0" y="0" class="bl">C</text>
<text x="6.5" y="0" class="bl">A</text>
</g>
<rect x="45.60" y="339.52" width="6.2" height="0.9" fill="#333"/>
<rect x="71.30" y="342.18" width="69.00" height="6.80" fill="#08b2e4" stroke="#1a1a1a" stroke-width="1"/>
<rect x="71.30" y="342.18" width="69.00" height="6.80" fill="url(#hatch)" stroke="#1a1a1a" stroke-width="1"/>
<line x1="66.30" y1="345.83" x2="71.30" y2="345.83" stroke="#333" stroke-width="0.9"/>
<g transform="translate(45.40,348.93) scale(1,1.0)">
<text x="0" y="0" class="bl" text-anchor="end">RT</text>
<text x="0" y="0" class="bl">C</text>
<text x="6.5" y="0" class="bl">A</text>
</g>
<rect x="45.60" y="349.93" width="6.2" height="0.9" fill="#333"/>
<rect x="71.30" y="352.64" width="104.80" height="6.80" fill="#08b2e4" stroke="#1a1a1a" stroke-width="1"/>
<rect x="71.30" y="352.64" width="104.80" height="6.80" fill="url(#hatch)" stroke="#1a1a1a" stroke-width="1"/>
<line x1="66.30" y1="356.24" x2="71.30" y2="356.24" stroke="#333" stroke-width="0.9"/>
<g transform="translate(45.40,359.34) scale(1,1.0)">
<text x="0" y="0" class="bl" text-anchor="end">YT</text>
<text x="0" y="0" class="bl">C</text>
<text x="6.5" y="0" class="bl">A</text>
</g>
<rect x="45.60" y="360.34" width="6.2" height="0.9" fill="#333"/>
<rect x="71.30" y="363.10" width="61.00" height="6.80" fill="#05a271" stroke="#1a1a1a" stroke-width="1"/>
<line x1="66.30" y1="366.65" x2="71.30" y2="366.65" stroke="#333" stroke-width="0.9"/>
<g transform="translate(45.40,369.75) scale(1,1.0)">
<text x="0" y="0" class="bl" text-anchor="end">T</text>
<text x="0" y="0" class="bl">C</text>
</g>
<rect x="45.60" y="370.75" width="6.2" height="0.9" fill="#333"/>
<rect x="71.30" y="373.56" width="72.30" height="6.80" fill="#05a271" stroke="#1a1a1a" stroke-width="1"/>
<line x1="66.30" y1="377.06" x2="71.30" y2="377.06" stroke="#333" stroke-width="0.9"/>
<g transform="translate(45.40,380.16) scale(1,1.0)">
<text x="0" y="0" class="bl" text-anchor="end">T</text>
<text x="0" y="0" class="bl">C</text>
<text x="6.5" y="0" class="bl">W</text>
</g>
<rect x="45.60" y="381.16" width="6.2" height="0.9" fill="#333"/>
<rect x="71.30" y="384.02" width="88.10" height="6.80" fill="#05a271" stroke="#1a1a1a" stroke-width="1"/>
<line x1="66.30" y1="387.47" x2="71.30" y2="387.47" stroke="#333" stroke-width="0.9"/>
<g transform="translate(45.40,390.57) scale(1,1.0)">
<text x="0" y="0" class="bl" text-anchor="end">T</text>
<text x="0" y="0" class="bl">C</text>
<text x="6.5" y="0" class="bl">A</text>
</g>
<rect x="45.60" y="391.57" width="6.2" height="0.9" fill="#333"/>
<rect x="71.30" y="394.48" width="69.00" height="6.80" fill="#05a271" stroke="#1a1a1a" stroke-width="1"/>
<rect x="71.30" y="394.48" width="69.00" height="6.80" fill="url(#hatch)" stroke="#1a1a1a" stroke-width="1"/>
<line x1="66.30" y1="397.88" x2="71.30" y2="397.88" stroke="#333" stroke-width="0.9"/>
<g transform="translate(45.40,400.98) scale(1,1.0)">
<text x="0" y="0" class="bl" text-anchor="end">RT</text>
<text x="0" y="0" class="bl">C</text>
<text x="6.5" y="0" class="bl">A</text>
</g>
<rect x="45.60" y="401.98" width="6.2" height="0.9" fill="#333"/>
<rect x="71.30" y="404.94" width="103.90" height="6.80" fill="#05a271" stroke="#1a1a1a" stroke-width="1"/>
<rect x="71.30" y="404.94" width="103.90" height="6.80" fill="url(#hatch)" stroke="#1a1a1a" stroke-width="1"/>
<line x1="66.30" y1="408.29" x2="71.30" y2="408.29" stroke="#333" stroke-width="0.9"/>
<g transform="translate(45.40,411.39) scale(1,1.0)">
<text x="0" y="0" class="bl" text-anchor="end">YT</text>
<text x="0" y="0" class="bl">C</text>
<text x="6.5" y="0" class="bl">A</text>
</g>
<rect x="45.60" y="412.39" width="6.2" height="0.9" fill="#333"/>
<rect x="71.30" y="415.40" width="68.80" height="6.80" fill="#ebe626" stroke="#1a1a1a" stroke-width="1"/>
<line x1="66.30" y1="418.70" x2="71.30" y2="418.70" stroke="#333" stroke-width="0.9"/>
<g transform="translate(45.40,421.80) scale(1,1.0)">
<text x="0" y="0" class="bl" text-anchor="end">T</text>
<text x="0" y="0" class="bl">C</text>
</g>
<rect x="45.60" y="422.80" width="6.2" height="0.9" fill="#333"/>
<rect x="71.30" y="425.86" width="82.90" height="6.80" fill="#ebe626" stroke="#1a1a1a" stroke-width="1"/>
<line x1="66.30" y1="429.11" x2="71.30" y2="429.11" stroke="#333" stroke-width="0.9"/>
<g transform="translate(45.40,432.21) scale(1,1.0)">
<text x="0" y="0" class="bl" text-anchor="end">T</text>
<text x="0" y="0" class="bl">C</text>
<text x="6.5" y="0" class="bl">W</text>
</g>
<rect x="45.60" y="433.21" width="6.2" height="0.9" fill="#333"/>
<rect x="71.30" y="436.32" width="98.80" height="6.80" fill="#ebe626" stroke="#1a1a1a" stroke-width="1"/>
<line x1="66.30" y1="439.52" x2="71.30" y2="439.52" stroke="#333" stroke-width="0.9"/>
<g transform="translate(45.40,442.62) scale(1,1.0)">
<text x="0" y="0" class="bl" text-anchor="end">T</text>
<text x="0" y="0" class="bl">C</text>
<text x="6.5" y="0" class="bl">A</text>
</g>
<rect x="45.60" y="443.62" width="6.2" height="0.9" fill="#333"/>
<rect x="71.30" y="446.78" width="73.70" height="6.80" fill="#ebe626" stroke="#1a1a1a" stroke-width="1"/>
<rect x="71.30" y="446.78" width="73.70" height="6.80" fill="url(#hatch)" stroke="#1a1a1a" stroke-width="1"/>
<line x1="66.30" y1="449.93" x2="71.30" y2="449.93" stroke="#333" stroke-width="0.9"/>
<g transform="translate(45.40,453.03) scale(1,1.0)">
<text x="0" y="0" class="bl" text-anchor="end">RT</text>
<text x="0" y="0" class="bl">C</text>
<text x="6.5" y="0" class="bl">A</text>
</g>
<rect x="45.60" y="454.03" width="6.2" height="0.9" fill="#333"/>
<rect x="71.30" y="457.24" width="118.40" height="6.80" fill="#ebe626" stroke="#1a1a1a" stroke-width="1"/>
<rect x="71.30" y="457.24" width="118.40" height="6.80" fill="url(#hatch)" stroke="#1a1a1a" stroke-width="1"/>
<line x1="66.30" y1="460.34" x2="71.30" y2="460.34" stroke="#333" stroke-width="0.9"/>
<g transform="translate(45.40,463.44) scale(1,1.0)">
<text x="0" y="0" class="bl" text-anchor="end">YT</text>
<text x="0" y="0" class="bl">C</text>
<text x="6.5" y="0" class="bl">A</text>
</g>
<rect x="45.60" y="464.44" width="6.2" height="0.9" fill="#333"/>
<rect x="71.30" y="467.70" width="78.10" height="6.80" fill="#e879ad" stroke="#1a1a1a" stroke-width="1"/>
<line x1="66.30" y1="470.75" x2="71.30" y2="470.75" stroke="#333" stroke-width="0.9"/>
<g transform="translate(45.40,473.85) scale(1,1.0)">
<text x="0" y="0" class="bl" text-anchor="end">T</text>
<text x="0" y="0" class="bl">C</text>
</g>
<rect x="45.60" y="474.85" width="6.2" height="0.9" fill="#333"/>
<rect x="71.30" y="478.16" width="95.10" height="6.80" fill="#e879ad" stroke="#1a1a1a" stroke-width="1"/>
<line x1="66.30" y1="481.16" x2="71.30" y2="481.16" stroke="#333" stroke-width="0.9"/>
<g transform="translate(45.40,484.26) scale(1,1.0)">
<text x="0" y="0" class="bl" text-anchor="end">T</text>
<text x="0" y="0" class="bl">C</text>
<text x="6.5" y="0" class="bl">W</text>
</g>
<rect x="45.60" y="485.26" width="6.2" height="0.9" fill="#333"/>
<rect x="71.30" y="488.62" width="114.90" height="6.80" fill="#e879ad" stroke="#1a1a1a" stroke-width="1"/>
<line x1="66.30" y1="491.57" x2="71.30" y2="491.57" stroke="#333" stroke-width="0.9"/>
<g transform="translate(45.40,494.67) scale(1,1.0)">
<text x="0" y="0" class="bl" text-anchor="end">T</text>
<text x="0" y="0" class="bl">C</text>
<text x="6.5" y="0" class="bl">A</text>
</g>
<rect x="45.60" y="495.67" width="6.2" height="0.9" fill="#333"/>
<rect x="71.30" y="499.08" width="82.90" height="6.80" fill="#e879ad" stroke="#1a1a1a" stroke-width="1"/>
<rect x="71.30" y="499.08" width="82.90" height="6.80" fill="url(#hatch)" stroke="#1a1a1a" stroke-width="1"/>
<line x1="66.30" y1="501.98" x2="71.30" y2="501.98" stroke="#333" stroke-width="0.9"/>
<g transform="translate(45.40,505.08) scale(1,1.0)">
<text x="0" y="0" class="bl" text-anchor="end">RT</text>
<text x="0" y="0" class="bl">C</text>
<text x="6.5" y="0" class="bl">A</text>
</g>
<rect x="45.60" y="506.08" width="6.2" height="0.9" fill="#333"/>
<rect x="71.30" y="509.54" width="138.00" height="6.80" fill="#e879ad" stroke="#1a1a1a" stroke-width="1"/>
<rect x="71.30" y="509.54" width="138.00" height="6.80" fill="url(#hatch)" stroke="#1a1a1a" stroke-width="1"/>
<line x1="66.30" y1="512.39" x2="71.30" y2="512.39" stroke="#333" stroke-width="0.9"/>
<g transform="translate(45.40,515.49) scale(1,1.0)">
<text x="0" y="0" class="bl" text-anchor="end">YT</text>
<text x="0" y="0" class="bl">C</text>
<text x="6.5" y="0" class="bl">A</text>
</g>
<rect x="45.60" y="516.49" width="6.2" height="0.9" fill="#333"/>
<line x1="71.80" y1="361.20" x2="207.30" y2="361.20" stroke="#222" stroke-width="1.5" stroke-dasharray="1.5 2.5"/>
<line x1="71.80" y1="413.50" x2="207.30" y2="413.50" stroke="#222" stroke-width="1.5" stroke-dasharray="1.5 2.5"/>
<line x1="71.80" y1="465.80" x2="207.30" y2="465.80" stroke="#222" stroke-width="1.5" stroke-dasharray="1.5 2.5"/>
<line x1="71.30" y1="308.80" x2="71.30" y2="521.30" stroke="#333" stroke-width="1"/>
<line x1="71.30" y1="517.00" x2="208.80" y2="517.00" stroke="#333" stroke-width="1"/>
<line x1="71.30" y1="517.00" x2="71.30" y2="521.30" stroke="#333" stroke-width="1"/>
<text x="71.30" y="535.00" class="tk" text-anchor="middle">0</text>
<line x1="97.92" y1="517.00" x2="97.92" y2="521.30" stroke="#333" stroke-width="1"/>
<text x="97.92" y="535.00" class="tk" text-anchor="middle">1</text>
<line x1="124.54" y1="517.00" x2="124.54" y2="521.30" stroke="#333" stroke-width="1"/>
<text x="124.54" y="535.00" class="tk" text-anchor="middle">2</text>
<line x1="151.16" y1="517.00" x2="151.16" y2="521.30" stroke="#333" stroke-width="1"/>
<text x="151.16" y="535.00" class="tk" text-anchor="middle">3</text>
<line x1="177.78" y1="517.00" x2="177.78" y2="521.30" stroke="#333" stroke-width="1"/>
<text x="177.78" y="535.00" class="tk" text-anchor="middle">4</text>
<line x1="204.40" y1="517.00" x2="204.40" y2="521.30" stroke="#333" stroke-width="1"/>
<text x="204.40" y="535.00" class="tk" text-anchor="middle">5</text>
<text x="140.10" y="553.00" class="ax" text-anchor="middle">Fold enrichment</text>
<text x="141.20" y="298.80" class="ti" text-anchor="middle">HNSC</text>
<text transform="translate(10.40,337.12) rotate(-90)" class="gl" text-anchor="middle">Genome</text>
<text transform="translate(21.90,337.72) rotate(-90)" class="gl" text-anchor="middle">wide</text>
<text transform="translate(10.60,388.67) rotate(-90)" class="gl" text-anchor="middle">Scattered</text>
<text transform="translate(10.60,439.22) rotate(-90)" class="gl" text-anchor="middle">Clusters</text>
<text transform="translate(10.40,493.77) rotate(-90)" class="gl" text-anchor="middle">C-coordinated</text>
<text transform="translate(21.90,493.07) rotate(-90)" class="gl" text-anchor="middle">clusters</text>
<rect x="302.60" y="310.80" width="40.00" height="6.80" fill="#08b2e4" stroke="#1a1a1a" stroke-width="1"/>
<line x1="297.60" y1="314.60" x2="302.60" y2="314.60" stroke="#333" stroke-width="0.9"/>
<g transform="translate(279.00,317.70) scale(1,1.0)">
<text x="0" y="0" class="bl" text-anchor="end">T</text>
<text x="0" y="0" class="bl">C</text>
</g>
<rect x="279.20" y="318.70" width="6.2" height="0.9" fill="#333"/>
<rect x="302.60" y="321.26" width="44.80" height="6.80" fill="#08b2e4" stroke="#1a1a1a" stroke-width="1"/>
<line x1="297.60" y1="325.01" x2="302.60" y2="325.01" stroke="#333" stroke-width="0.9"/>
<g transform="translate(279.00,328.11) scale(1,1.0)">
<text x="0" y="0" class="bl" text-anchor="end">T</text>
<text x="0" y="0" class="bl">C</text>
<text x="6.5" y="0" class="bl">W</text>
</g>
<rect x="279.20" y="329.11" width="6.2" height="0.9" fill="#333"/>
<rect x="302.60" y="331.72" width="48.80" height="6.80" fill="#08b2e4" stroke="#1a1a1a" stroke-width="1"/>
<line x1="297.60" y1="335.42" x2="302.60" y2="335.42" stroke="#333" stroke-width="0.9"/>
<g transform="translate(279.00,338.52) scale(1,1.0)">
<text x="0" y="0" class="bl" text-anchor="end">T</text>
<text x="0" y="0" class="bl">C</text>
<text x="6.5" y="0" class="bl">A</text>
</g>
<rect x="279.20" y="339.52" width="6.2" height="0.9" fill="#333"/>
<rect x="302.60" y="342.18" width="47.60" height="6.80" fill="#08b2e4" stroke="#1a1a1a" stroke-width="1"/>
<rect x="302.60" y="342.18" width="47.60" height="6.80" fill="url(#hatch)" stroke="#1a1a1a" stroke-width="1"/>
<line x1="297.60" y1="345.83" x2="302.60" y2="345.83" stroke="#333" stroke-width="0.9"/>
<g transform="translate(279.00,348.93) scale(1,1.0)">
<text x="0" y="0" class="bl" text-anchor="end">RT</text>
<text x="0" y="0" class="bl">C</text>
<text x="6.5" y="0" class="bl">A</text>
</g>
<rect x="279.20" y="349.93" width="6.2" height="0.9" fill="#333"/>
<rect x="302.60" y="352.64" width="52.70" height="6.80" fill="#08b2e4" stroke="#1a1a1a" stroke-width="1"/>
<rect x="302.60" y="352.64" width="52.70" height="6.80" fill="url(#hatch)" stroke="#1a1a1a" stroke-width="1"/>
<line x1="297.60" y1="356.24" x2="302.60" y2="356.24" stroke="#333" stroke-width="0.9"/>
<g transform="translate(279.00,359.34) scale(1,1.0)">
<text x="0" y="0" class="bl" text-anchor="end">YT</text>
<text x="0" y="0" class="bl">C</text>
<text x="6.5" y="0" class="bl">A</text>
</g>
<rect x="279.20" y="360.34" width="6.2" height="0.9" fill="#333"/>
<rect x="302.60" y="363.10" width="39.70" height="6.80" fill="#05a271" stroke="#1a1a1a" stroke-width="1"/>
<line x1="297.60" y1="366.65" x2="302.60" y2="366.65" stroke="#333" stroke-width="0.9"/>
<g transform="translate(279.00,369.75) scale(1,1.0)">
<text x="0" y="0" class="bl" text-anchor="end">T</text>
<text x="0" y="0" class="bl">C</text>
</g>
<rect x="279.20" y="370.75" width="6.2" height="0.9" fill="#333"/>
<rect x="302.60" y="373.56" width="44.80" height="6.80" fill="#05a271" stroke="#1a1a1a" stroke-width="1"/>
<line x1="297.60" y1="377.06" x2="302.60" y2="377.06" stroke="#333" stroke-width="0.9"/>
<g transform="translate(279.00,380.16) scale(1,1.0)">
<text x="0" y="0" class="bl" text-anchor="end">T</text>
<text x="0" y="0" class="bl">C</text>
<text x="6.5" y="0" class="bl">W</text>
</g>
<rect x="279.20" y="381.16" width="6.2" height="0.9" fill="#333"/>
<rect x="302.60" y="384.02" width="48.80" height="6.80" fill="#05a271" stroke="#1a1a1a" stroke-width="1"/>
<line x1="297.60" y1="387.47" x2="302.60" y2="387.47" stroke="#333" stroke-width="0.9"/>
<g transform="translate(279.00,390.57) scale(1,1.0)">
<text x="0" y="0" class="bl" text-anchor="end">T</text>
<text x="0" y="0" class="bl">C</text>
<text x="6.5" y="0" class="bl">A</text>
</g>
<rect x="279.20" y="391.57" width="6.2" height="0.9" fill="#333"/>
<rect x="302.60" y="394.48" width="47.00" height="6.80" fill="#05a271" stroke="#1a1a1a" stroke-width="1"/>
<rect x="302.60" y="394.48" width="47.00" height="6.80" fill="url(#hatch)" stroke="#1a1a1a" stroke-width="1"/>
<line x1="297.60" y1="397.88" x2="302.60" y2="397.88" stroke="#333" stroke-width="0.9"/>
<g transform="translate(279.00,400.98) scale(1,1.0)">
<text x="0" y="0" class="bl" text-anchor="end">RT</text>
<text x="0" y="0" class="bl">C</text>
<text x="6.5" y="0" class="bl">A</text>
</g>
<rect x="279.20" y="401.98" width="6.2" height="0.9" fill="#333"/>
<rect x="302.60" y="404.94" width="52.70" height="6.80" fill="#05a271" stroke="#1a1a1a" stroke-width="1"/>
<rect x="302.60" y="404.94" width="52.70" height="6.80" fill="url(#hatch)" stroke="#1a1a1a" stroke-width="1"/>
<line x1="297.60" y1="408.29" x2="302.60" y2="408.29" stroke="#333" stroke-width="0.9"/>
<g transform="translate(279.00,411.39) scale(1,1.0)">
<text x="0" y="0" class="bl" text-anchor="end">YT</text>
<text x="0" y="0" class="bl">C</text>
<text x="6.5" y="0" class="bl">A</text>
</g>
<rect x="279.20" y="412.39" width="6.2" height="0.9" fill="#333"/>
<rect x="302.60" y="415.40" width="44.10" height="6.80" fill="#ebe626" stroke="#1a1a1a" stroke-width="1"/>
<line x1="297.60" y1="418.70" x2="302.60" y2="418.70" stroke="#333" stroke-width="0.9"/>
<g transform="translate(279.00,421.80) scale(1,1.0)">
<text x="0" y="0" class="bl" text-anchor="end">T</text>
<text x="0" y="0" class="bl">C</text>
</g>
<rect x="279.20" y="422.80" width="6.2" height="0.9" fill="#333"/>
<rect x="302.60" y="425.86" width="50.20" height="6.80" fill="#ebe626" stroke="#1a1a1a" stroke-width="1"/>
<line x1="297.60" y1="429.11" x2="302.60" y2="429.11" stroke="#333" stroke-width="0.9"/>
<g transform="translate(279.00,432.21) scale(1,1.0)">
<text x="0" y="0" class="bl" text-anchor="end">T</text>
<text x="0" y="0" class="bl">C</text>
<text x="6.5" y="0" class="bl">W</text>
</g>
<rect x="279.20" y="433.21" width="6.2" height="0.9" fill="#333"/>
<rect x="302.60" y="436.32" width="53.50" height="6.80" fill="#ebe626" stroke="#1a1a1a" stroke-width="1"/>
<line x1="297.60" y1="439.52" x2="302.60" y2="439.52" stroke="#333" stroke-width="0.9"/>
<g transform="translate(279.00,442.62) scale(1,1.0)">
<text x="0" y="0" class="bl" text-anchor="end">T</text>
<text x="0" y="0" class="bl">C</text>
<text x="6.5" y="0" class="bl">A</text>
</g>
<rect x="279.20" y="443.62" width="6.2" height="0.9" fill="#333"/>
<rect x="302.60" y="446.78" width="58.80" height="6.80" fill="#ebe626" stroke="#1a1a1a" stroke-width="1"/>
<rect x="302.60" y="446.78" width="58.80" height="6.80" fill="url(#hatch)" stroke="#1a1a1a" stroke-width="1"/>
<line x1="297.60" y1="449.93" x2="302.60" y2="449.93" stroke="#333" stroke-width="0.9"/>
<g transform="translate(279.00,453.03) scale(1,1.0)">
<text x="0" y="0" class="bl" text-anchor="end">RT</text>
<text x="0" y="0" class="bl">C</text>
<text x="6.5" y="0" class="bl">A</text>
</g>
<rect x="279.20" y="454.03" width="6.2" height="0.9" fill="#333"/>
<rect x="302.60" y="457.24" width="52.80" height="6.80" fill="#ebe626" stroke="#1a1a1a" stroke-width="1"/>
<rect x="302.60" y="457.24" width="52.80" height="6.80" fill="url(#hatch)" stroke="#1a1a1a" stroke-width="1"/>
<line x1="297.60" y1="460.34" x2="302.60" y2="460.34" stroke="#333" stroke-width="0.9"/>
<g transform="translate(279.00,463.44) scale(1,1.0)">
<text x="0" y="0" class="bl" text-anchor="end">YT</text>
<text x="0" y="0" class="bl">C</text>
<text x="6.5" y="0" class="bl">A</text>
</g>
<rect x="279.20" y="464.44" width="6.2" height="0.9" fill="#333"/>
<rect x="302.60" y="467.70" width="71.60" height="6.80" fill="#e879ad" stroke="#1a1a1a" stroke-width="1"/>
<line x1="297.60" y1="470.75" x2="302.60" y2="470.75" stroke="#333" stroke-width="0.9"/>
<g transform="translate(279.00,473.85) scale(1,1.0)">
<text x="0" y="0" class="bl" text-anchor="end">T</text>
<text x="0" y="0" class="bl">C</text>
</g>
<rect x="279.20" y="474.85" width="6.2" height="0.9" fill="#333"/>
<rect x="302.60" y="478.16" width="85.20" height="6.80" fill="#e879ad" stroke="#1a1a1a" stroke-width="1"/>
<line x1="297.60" y1="481.16" x2="302.60" y2="481.16" stroke="#333" stroke-width="0.9"/>
<g transform="translate(279.00,484.26) scale(1,1.0)">
<text x="0" y="0" class="bl" text-anchor="end">T</text>
<text x="0" y="0" class="bl">C</text>
<text x="6.5" y="0" class="bl">W</text>
</g>
<rect x="279.20" y="485.26" width="6.2" height="0.9" fill="#333"/>
<rect x="302.60" y="488.62" width="92.60" height="6.80" fill="#e879ad" stroke="#1a1a1a" stroke-width="1"/>
<line x1="297.60" y1="491.57" x2="302.60" y2="491.57" stroke="#333" stroke-width="0.9"/>
<g transform="translate(279.00,494.67) scale(1,1.0)">
<text x="0" y="0" class="bl" text-anchor="end">T</text>
<text x="0" y="0" class="bl">C</text>
<text x="6.5" y="0" class="bl">A</text>
</g>
<rect x="279.20" y="495.67" width="6.2" height="0.9" fill="#333"/>
<rect x="302.60" y="499.08" width="105.40" height="6.80" fill="#e879ad" stroke="#1a1a1a" stroke-width="1"/>
<rect x="302.60" y="499.08" width="105.40" height="6.80" fill="url(#hatch)" stroke="#1a1a1a" stroke-width="1"/>
<line x1="297.60" y1="501.98" x2="302.60" y2="501.98" stroke="#333" stroke-width="0.9"/>
<g transform="translate(279.00,505.08) scale(1,1.0)">
<text x="0" y="0" class="bl" text-anchor="end">RT</text>
<text x="0" y="0" class="bl">C</text>
<text x="6.5" y="0" class="bl">A</text>
</g>
<rect x="279.20" y="506.08" width="6.2" height="0.9" fill="#333"/>
<rect x="302.60" y="509.54" width="89.40" height="6.80" fill="#e879ad" stroke="#1a1a1a" stroke-width="1"/>
<rect x="302.60" y="509.54" width="89.40" height="6.80" fill="url(#hatch)" stroke="#1a1a1a" stroke-width="1"/>
<line x1="297.60" y1="512.39" x2="302.60" y2="512.39" stroke="#333" stroke-width="0.9"/>
<g transform="translate(279.00,515.49) scale(1,1.0)">
<text x="0" y="0" class="bl" text-anchor="end">YT</text>
<text x="0" y="0" class="bl">C</text>
<text x="6.5" y="0" class="bl">A</text>
</g>
<rect x="279.20" y="516.49" width="6.2" height="0.9" fill="#333"/>
<line x1="303.10" y1="361.20" x2="438.60" y2="361.20" stroke="#222" stroke-width="1.5" stroke-dasharray="1.5 2.5"/>
<line x1="303.10" y1="413.50" x2="438.60" y2="413.50" stroke="#222" stroke-width="1.5" stroke-dasharray="1.5 2.5"/>
<line x1="303.10" y1="465.80" x2="438.60" y2="465.80" stroke="#222" stroke-width="1.5" stroke-dasharray="1.5 2.5"/>
<line x1="302.60" y1="308.80" x2="302.60" y2="521.30" stroke="#333" stroke-width="1"/>
<line x1="302.60" y1="517.00" x2="440.10" y2="517.00" stroke="#333" stroke-width="1"/>
<line x1="302.60" y1="517.00" x2="302.60" y2="521.30" stroke="#333" stroke-width="1"/>
<text x="302.60" y="535.00" class="tk" text-anchor="middle">0</text>
<line x1="329.22" y1="517.00" x2="329.22" y2="521.30" stroke="#333" stroke-width="1"/>
<text x="329.22" y="535.00" class="tk" text-anchor="middle">1</text>
<line x1="355.84" y1="517.00" x2="355.84" y2="521.30" stroke="#333" stroke-width="1"/>
<text x="355.84" y="535.00" class="tk" text-anchor="middle">2</text>
<line x1="382.46" y1="517.00" x2="382.46" y2="521.30" stroke="#333" stroke-width="1"/>
<text x="382.46" y="535.00" class="tk" text-anchor="middle">3</text>
<line x1="409.08" y1="517.00" x2="409.08" y2="521.30" stroke="#333" stroke-width="1"/>
<text x="409.08" y="535.00" class="tk" text-anchor="middle">4</text>
<line x1="435.70" y1="517.00" x2="435.70" y2="521.30" stroke="#333" stroke-width="1"/>
<text x="435.70" y="535.00" class="tk" text-anchor="middle">5</text>
<text x="371.40" y="553.00" class="ax" text-anchor="middle">Fold enrichment</text>
<text x="372.00" y="298.80" class="ti" text-anchor="middle">LUAD</text>
<text transform="translate(244.00,337.12) rotate(-90)" class="gl" text-anchor="middle">Genome</text>
<text transform="translate(255.50,337.72) rotate(-90)" class="gl" text-anchor="middle">wide</text>
<text transform="translate(244.20,388.67) rotate(-90)" class="gl" text-anchor="middle">Scattered</text>
<text transform="translate(244.20,439.22) rotate(-90)" class="gl" text-anchor="middle">Clusters</text>
<text transform="translate(244.00,493.77) rotate(-90)" class="gl" text-anchor="middle">C-coordinated</text>
<text transform="translate(255.50,493.07) rotate(-90)" class="gl" text-anchor="middle">clusters</text>
<rect x="537.50" y="310.80" width="41.50" height="6.80" fill="#08b2e4" stroke="#1a1a1a" stroke-width="1"/>
<line x1="532.50" y1="314.60" x2="537.50" y2="314.60" stroke="#333" stroke-width="0.9"/>
<g transform="translate(513.10,317.70) scale(1,1.0)">
<text x="0" y="0" class="bl" text-anchor="end">T</text>
<text x="0" y="0" class="bl">C</text>
</g>
<rect x="513.30" y="318.70" width="6.2" height="0.9" fill="#333"/>
<rect x="537.50" y="321.26" width="47.10" height="6.80" fill="#08b2e4" stroke="#1a1a1a" stroke-width="1"/>
<line x1="532.50" y1="325.01" x2="537.50" y2="325.01" stroke="#333" stroke-width="0.9"/>
<g transform="translate(513.10,328.11) scale(1,1.0)">
<text x="0" y="0" class="bl" text-anchor="end">T</text>
<text x="0" y="0" class="bl">C</text>
<text x="6.5" y="0" class="bl">W</text>
</g>
<rect x="513.30" y="329.11" width="6.2" height="0.9" fill="#333"/>
<rect x="537.50" y="331.72" width="52.40" height="6.80" fill="#08b2e4" stroke="#1a1a1a" stroke-width="1"/>
<line x1="532.50" y1="335.42" x2="537.50" y2="335.42" stroke="#333" stroke-width="0.9"/>
<g transform="translate(513.10,338.52) scale(1,1.0)">
<text x="0" y="0" class="bl" text-anchor="end">T</text>
<text x="0" y="0" class="bl">C</text>
<text x="6.5" y="0" class="bl">A</text>
</g>
<rect x="513.30" y="339.52" width="6.2" height="0.9" fill="#333"/>
<rect x="537.50" y="342.18" width="50.70" height="6.80" fill="#08b2e4" stroke="#1a1a1a" stroke-width="1"/>
<rect x="537.50" y="342.18" width="50.70" height="6.80" fill="url(#hatch)" stroke="#1a1a1a" stroke-width="1"/>
<line x1="532.50" y1="345.83" x2="537.50" y2="345.83" stroke="#333" stroke-width="0.9"/>
<g transform="translate(513.10,348.93) scale(1,1.0)">
<text x="0" y="0" class="bl" text-anchor="end">RT</text>
<text x="0" y="0" class="bl">C</text>
<text x="6.5" y="0" class="bl">A</text>
</g>
<rect x="513.30" y="349.93" width="6.2" height="0.9" fill="#333"/>
<rect x="537.50" y="352.64" width="55.90" height="6.80" fill="#08b2e4" stroke="#1a1a1a" stroke-width="1"/>
<rect x="537.50" y="352.64" width="55.90" height="6.80" fill="url(#hatch)" stroke="#1a1a1a" stroke-width="1"/>
<line x1="532.50" y1="356.24" x2="537.50" y2="356.24" stroke="#333" stroke-width="0.9"/>
<g transform="translate(513.10,359.34) scale(1,1.0)">
<text x="0" y="0" class="bl" text-anchor="end">YT</text>
<text x="0" y="0" class="bl">C</text>
<text x="6.5" y="0" class="bl">A</text>
</g>
<rect x="513.30" y="360.34" width="6.2" height="0.9" fill="#333"/>
<rect x="537.50" y="363.10" width="41.40" height="6.80" fill="#05a271" stroke="#1a1a1a" stroke-width="1"/>
<line x1="532.50" y1="366.65" x2="537.50" y2="366.65" stroke="#333" stroke-width="0.9"/>
<g transform="translate(513.10,369.75) scale(1,1.0)">
<text x="0" y="0" class="bl" text-anchor="end">T</text>
<text x="0" y="0" class="bl">C</text>
</g>
<rect x="513.30" y="370.75" width="6.2" height="0.9" fill="#333"/>
<rect x="537.50" y="373.56" width="46.60" height="6.80" fill="#05a271" stroke="#1a1a1a" stroke-width="1"/>
<line x1="532.50" y1="377.06" x2="537.50" y2="377.06" stroke="#333" stroke-width="0.9"/>
<g transform="translate(513.10,380.16) scale(1,1.0)">
<text x="0" y="0" class="bl" text-anchor="end">T</text>
<text x="0" y="0" class="bl">C</text>
<text x="6.5" y="0" class="bl">W</text>
</g>
<rect x="513.30" y="381.16" width="6.2" height="0.9" fill="#333"/>
<rect x="537.50" y="384.02" width="51.90" height="6.80" fill="#05a271" stroke="#1a1a1a" stroke-width="1"/>
<line x1="532.50" y1="387.47" x2="537.50" y2="387.47" stroke="#333" stroke-width="0.9"/>
<g transform="translate(513.10,390.57) scale(1,1.0)">
<text x="0" y="0" class="bl" text-anchor="end">T</text>
<text x="0" y="0" class="bl">C</text>
<text x="6.5" y="0" class="bl">A</text>
</g>
<rect x="513.30" y="391.57" width="6.2" height="0.9" fill="#333"/>
<rect x="537.50" y="394.48" width="50.10" height="6.80" fill="#05a271" stroke="#1a1a1a" stroke-width="1"/>
<rect x="537.50" y="394.48" width="50.10" height="6.80" fill="url(#hatch)" stroke="#1a1a1a" stroke-width="1"/>
<line x1="532.50" y1="397.88" x2="537.50" y2="397.88" stroke="#333" stroke-width="0.9"/>
<g transform="translate(513.10,400.98) scale(1,1.0)">
<text x="0" y="0" class="bl" text-anchor="end">RT</text>
<text x="0" y="0" class="bl">C</text>
<text x="6.5" y="0" class="bl">A</text>
</g>
<rect x="513.30" y="401.98" width="6.2" height="0.9" fill="#333"/>
<rect x="537.50" y="404.94" width="55.40" height="6.80" fill="#05a271" stroke="#1a1a1a" stroke-width="1"/>
<rect x="537.50" y="404.94" width="55.40" height="6.80" fill="url(#hatch)" stroke="#1a1a1a" stroke-width="1"/>
<line x1="532.50" y1="408.29" x2="537.50" y2="408.29" stroke="#333" stroke-width="0.9"/>
<g transform="translate(513.10,411.39) scale(1,1.0)">
<text x="0" y="0" class="bl" text-anchor="end">YT</text>
<text x="0" y="0" class="bl">C</text>
<text x="6.5" y="0" class="bl">A</text>
</g>
<rect x="513.30" y="412.39" width="6.2" height="0.9" fill="#333"/>
<rect x="537.50" y="415.40" width="52.80" height="6.80" fill="#ebe626" stroke="#1a1a1a" stroke-width="1"/>
<line x1="532.50" y1="418.70" x2="537.50" y2="418.70" stroke="#333" stroke-width="0.9"/>
<g transform="translate(513.10,421.80) scale(1,1.0)">
<text x="0" y="0" class="bl" text-anchor="end">T</text>
<text x="0" y="0" class="bl">C</text>
</g>
<rect x="513.30" y="422.80" width="6.2" height="0.9" fill="#333"/>
<rect x="537.50" y="425.86" width="61.50" height="6.80" fill="#ebe626" stroke="#1a1a1a" stroke-width="1"/>
<line x1="532.50" y1="429.11" x2="537.50" y2="429.11" stroke="#333" stroke-width="0.9"/>
<g transform="translate(513.10,432.21) scale(1,1.0)">
<text x="0" y="0" class="bl" text-anchor="end">T</text>
<text x="0" y="0" class="bl">C</text>
<text x="6.5" y="0" class="bl">W</text>
</g>
<rect x="513.30" y="433.21" width="6.2" height="0.9" fill="#333"/>
<rect x="537.50" y="436.32" width="67.80" height="6.80" fill="#ebe626" stroke="#1a1a1a" stroke-width="1"/>
<line x1="532.50" y1="439.52" x2="537.50" y2="439.52" stroke="#333" stroke-width="0.9"/>
<g transform="translate(513.10,442.62) scale(1,1.0)">
<text x="0" y="0" class="bl" text-anchor="end">T</text>
<text x="0" y="0" class="bl">C</text>
<text x="6.5" y="0" class="bl">A</text>
</g>
<rect x="513.30" y="443.62" width="6.2" height="0.9" fill="#333"/>
<rect x="537.50" y="446.78" width="62.90" height="6.80" fill="#ebe626" stroke="#1a1a1a" stroke-width="1"/>
<rect x="537.50" y="446.78" width="62.90" height="6.80" fill="url(#hatch)" stroke="#1a1a1a" stroke-width="1"/>
<line x1="532.50" y1="449.93" x2="537.50" y2="449.93" stroke="#333" stroke-width="0.9"/>
<g transform="translate(513.10,453.03) scale(1,1.0)">
<text x="0" y="0" class="bl" text-anchor="end">RT</text>
<text x="0" y="0" class="bl">C</text>
<text x="6.5" y="0" class="bl">A</text>
</g>
<rect x="513.30" y="454.03" width="6.2" height="0.9" fill="#333"/>
<rect x="537.50" y="457.24" width="74.30" height="6.80" fill="#ebe626" stroke="#1a1a1a" stroke-width="1"/>
<rect x="537.50" y="457.24" width="74.30" height="6.80" fill="url(#hatch)" stroke="#1a1a1a" stroke-width="1"/>
<line x1="532.50" y1="460.34" x2="537.50" y2="460.34" stroke="#333" stroke-width="0.9"/>
<g transform="translate(513.10,463.44) scale(1,1.0)">
<text x="0" y="0" class="bl" text-anchor="end">YT</text>
<text x="0" y="0" class="bl">C</text>
<text x="6.5" y="0" class="bl">A</text>
</g>
<rect x="513.30" y="464.44" width="6.2" height="0.9" fill="#333"/>
<rect x="537.50" y="467.70" width="77.50" height="6.80" fill="#e879ad" stroke="#1a1a1a" stroke-width="1"/>
<line x1="532.50" y1="470.75" x2="537.50" y2="470.75" stroke="#333" stroke-width="0.9"/>
<g transform="translate(513.10,473.85) scale(1,1.0)">
<text x="0" y="0" class="bl" text-anchor="end">T</text>
<text x="0" y="0" class="bl">C</text>
</g>
<rect x="513.30" y="474.85" width="6.2" height="0.9" fill="#333"/>
<rect x="537.50" y="478.16" width="93.90" height="6.80" fill="#e879ad" stroke="#1a1a1a" stroke-width="1"/>
<line x1="532.50" y1="481.16" x2="537.50" y2="481.16" stroke="#333" stroke-width="0.9"/>
<g transform="translate(513.10,484.26) scale(1,1.0)">
<text x="0" y="0" class="bl" text-anchor="end">T</text>
<text x="0" y="0" class="bl">C</text>
<text x="6.5" y="0" class="bl">W</text>
</g>
<rect x="513.30" y="485.26" width="6.2" height="0.9" fill="#333"/>
<rect x="537.50" y="488.62" width="105.00" height="6.80" fill="#e879ad" stroke="#1a1a1a" stroke-width="1"/>
<line x1="532.50" y1="491.57" x2="537.50" y2="491.57" stroke="#333" stroke-width="0.9"/>
<g transform="translate(513.10,494.67) scale(1,1.0)">
<text x="0" y="0" class="bl" text-anchor="end">T</text>
<text x="0" y="0" class="bl">C</text>
<text x="6.5" y="0" class="bl">A</text>
</g>
<rect x="513.30" y="495.67" width="6.2" height="0.9" fill="#333"/>
<rect x="537.50" y="499.08" width="88.70" height="6.80" fill="#e879ad" stroke="#1a1a1a" stroke-width="1"/>
<rect x="537.50" y="499.08" width="88.70" height="6.80" fill="url(#hatch)" stroke="#1a1a1a" stroke-width="1"/>
<line x1="532.50" y1="501.98" x2="537.50" y2="501.98" stroke="#333" stroke-width="0.9"/>
<g transform="translate(513.10,505.08) scale(1,1.0)">
<text x="0" y="0" class="bl" text-anchor="end">RT</text>
<text x="0" y="0" class="bl">C</text>
<text x="6.5" y="0" class="bl">A</text>
</g>
<rect x="513.30" y="506.08" width="6.2" height="0.9" fill="#333"/>
<rect x="537.50" y="509.54" width="119.90" height="6.80" fill="#e879ad" stroke="#1a1a1a" stroke-width="1"/>
<rect x="537.50" y="509.54" width="119.90" height="6.80" fill="url(#hatch)" stroke="#1a1a1a" stroke-width="1"/>
<line x1="532.50" y1="512.39" x2="537.50" y2="512.39" stroke="#333" stroke-width="0.9"/>
<g transform="translate(513.10,515.49) scale(1,1.0)">
<text x="0" y="0" class="bl" text-anchor="end">YT</text>
<text x="0" y="0" class="bl">C</text>
<text x="6.5" y="0" class="bl">A</text>
</g>
<rect x="513.30" y="516.49" width="6.2" height="0.9" fill="#333"/>
<line x1="538.00" y1="361.20" x2="673.50" y2="361.20" stroke="#222" stroke-width="1.5" stroke-dasharray="1.5 2.5"/>
<line x1="538.00" y1="413.50" x2="673.50" y2="413.50" stroke="#222" stroke-width="1.5" stroke-dasharray="1.5 2.5"/>
<line x1="538.00" y1="465.80" x2="673.50" y2="465.80" stroke="#222" stroke-width="1.5" stroke-dasharray="1.5 2.5"/>
<line x1="537.50" y1="308.80" x2="537.50" y2="521.30" stroke="#333" stroke-width="1"/>
<line x1="537.50" y1="517.00" x2="675.00" y2="517.00" stroke="#333" stroke-width="1"/>
<line x1="537.50" y1="517.00" x2="537.50" y2="521.30" stroke="#333" stroke-width="1"/>
<text x="537.50" y="535.00" class="tk" text-anchor="middle">0</text>
<line x1="564.12" y1="517.00" x2="564.12" y2="521.30" stroke="#333" stroke-width="1"/>
<text x="564.12" y="535.00" class="tk" text-anchor="middle">1</text>
<line x1="590.74" y1="517.00" x2="590.74" y2="521.30" stroke="#333" stroke-width="1"/>
<text x="590.74" y="535.00" class="tk" text-anchor="middle">2</text>
<line x1="617.36" y1="517.00" x2="617.36" y2="521.30" stroke="#333" stroke-width="1"/>
<text x="617.36" y="535.00" class="tk" text-anchor="middle">3</text>
<line x1="643.98" y1="517.00" x2="643.98" y2="521.30" stroke="#333" stroke-width="1"/>
<text x="643.98" y="535.00" class="tk" text-anchor="middle">4</text>
<line x1="670.60" y1="517.00" x2="670.60" y2="521.30" stroke="#333" stroke-width="1"/>
<text x="670.60" y="535.00" class="tk" text-anchor="middle">5</text>
<text x="606.30" y="553.00" class="ax" text-anchor="middle">Fold enrichment</text>
<text x="607.00" y="298.80" class="ti" text-anchor="middle">LUSC</text>
<text transform="translate(478.10,337.12) rotate(-90)" class="gl" text-anchor="middle">Genome</text>
<text transform="translate(489.60,337.72) rotate(-90)" class="gl" text-anchor="middle">wide</text>
<text transform="translate(478.30,388.67) rotate(-90)" class="gl" text-anchor="middle">Scattered</text>
<text transform="translate(478.30,439.22) rotate(-90)" class="gl" text-anchor="middle">Clusters</text>
<text transform="translate(478.10,493.77) rotate(-90)" class="gl" text-anchor="middle">C-coordinated</text>
<text transform="translate(489.60,493.07) rotate(-90)" class="gl" text-anchor="middle">clusters</text>
<line x1="38.60" y1="578.35" x2="38.60" y2="758.70" stroke="#333" stroke-width="1"/>
<line x1="34.10" y1="754.20" x2="215.20" y2="754.20" stroke="#333" stroke-width="1"/>
<line x1="38.60" y1="754.20" x2="38.60" y2="758.70" stroke="#333" stroke-width="1"/>
<line x1="34.10" y1="754.20" x2="38.60" y2="754.20" stroke="#333" stroke-width="1"/>
<text x="38.60" y="773.00" class="tk2" text-anchor="middle">0</text>
<text x="29.00" y="757.80" class="tk2" text-anchor="end">0</text>
<line x1="73.92" y1="754.20" x2="73.92" y2="758.70" stroke="#333" stroke-width="1"/>
<line x1="34.10" y1="719.03" x2="38.60" y2="719.03" stroke="#333" stroke-width="1"/>
<text x="73.92" y="773.00" class="tk2" text-anchor="middle">1</text>
<text x="29.00" y="722.63" class="tk2" text-anchor="end">1</text>
<line x1="109.24" y1="754.20" x2="109.24" y2="758.70" stroke="#333" stroke-width="1"/>
<line x1="34.10" y1="683.86" x2="38.60" y2="683.86" stroke="#333" stroke-width="1"/>
<text x="109.24" y="773.00" class="tk2" text-anchor="middle">2</text>
<text x="29.00" y="687.46" class="tk2" text-anchor="end">2</text>
<line x1="144.56" y1="754.20" x2="144.56" y2="758.70" stroke="#333" stroke-width="1"/>
<line x1="34.10" y1="648.69" x2="38.60" y2="648.69" stroke="#333" stroke-width="1"/>
<text x="144.56" y="773.00" class="tk2" text-anchor="middle">3</text>
<text x="29.00" y="652.29" class="tk2" text-anchor="end">3</text>
<line x1="179.88" y1="754.20" x2="179.88" y2="758.70" stroke="#333" stroke-width="1"/>
<line x1="34.10" y1="613.52" x2="38.60" y2="613.52" stroke="#333" stroke-width="1"/>
<text x="179.88" y="773.00" class="tk2" text-anchor="middle">4</text>
<text x="29.00" y="617.12" class="tk2" text-anchor="end">4</text>
<line x1="215.20" y1="754.20" x2="215.20" y2="758.70" stroke="#333" stroke-width="1"/>
<line x1="34.10" y1="578.35" x2="38.60" y2="578.35" stroke="#333" stroke-width="1"/>
<text x="215.20" y="773.00" class="tk2" text-anchor="middle">5</text>
<text x="29.00" y="581.95" class="tk2" text-anchor="end">5</text>
<circle cx="69.20" cy="720.10" r="2.05" fill="none" stroke="#22a8da" stroke-width="1.35"/>
<circle cx="81.60" cy="710.40" r="2.05" fill="none" stroke="#22a8da" stroke-width="1.35"/>
<circle cx="85.70" cy="706.00" r="2.05" fill="none" stroke="#22a8da" stroke-width="1.35"/>
<circle cx="99.10" cy="687.70" r="2.05" fill="none" stroke="#22a8da" stroke-width="1.35"/>
<circle cx="109.60" cy="675.30" r="2.05" fill="none" stroke="#22a8da" stroke-width="1.35"/>
<circle cx="111.50" cy="666.10" r="2.05" fill="none" stroke="#22a8da" stroke-width="1.35"/>
<circle cx="113.40" cy="674.60" r="2.05" fill="none" stroke="#e0de38" stroke-width="1.35"/>
<circle cx="118.80" cy="660.70" r="2.05" fill="none" stroke="#e0de38" stroke-width="1.35"/>
<circle cx="131.00" cy="644.30" r="2.05" fill="none" stroke="#e0de38" stroke-width="1.35"/>
<circle cx="136.60" cy="641.50" r="2.05" fill="none" stroke="#e0de38" stroke-width="1.35"/>
<circle cx="138.80" cy="640.60" r="2.05" fill="none" stroke="#e0de38" stroke-width="1.35"/>
<circle cx="140.90" cy="636.40" r="2.05" fill="none" stroke="#da6538" stroke-width="1.35"/>
<circle cx="143.20" cy="629.80" r="2.05" fill="none" stroke="#da6538" stroke-width="1.35"/>
<circle cx="144.40" cy="625.10" r="2.05" fill="none" stroke="#da6538" stroke-width="1.35"/>
<circle cx="146.70" cy="628.40" r="2.05" fill="none" stroke="#da6538" stroke-width="1.35"/>
<circle cx="149.00" cy="617.50" r="2.05" fill="none" stroke="#da6538" stroke-width="1.35"/>
<circle cx="151.30" cy="617.20" r="2.05" fill="none" stroke="#da6538" stroke-width="1.35"/>
<circle cx="152.50" cy="620.10" r="2.05" fill="none" stroke="#d87aae" stroke-width="1.35"/>
<circle cx="153.40" cy="618.80" r="2.05" fill="none" stroke="#d87aae" stroke-width="1.35"/>
<circle cx="157.20" cy="613.70" r="2.05" fill="none" stroke="#d87aae" stroke-width="1.35"/>
<circle cx="159.50" cy="607.50" r="2.05" fill="none" stroke="#d87aae" stroke-width="1.35"/>
<line x1="38.60" y1="754.20" x2="215.20" y2="578.35" stroke="#222" stroke-width="1.1"/>
<text x="127.80" y="583.00" class="ti2" text-anchor="middle">BLCA</text>
<text x="209.60" y="746.10" class="pv" text-anchor="end"><tspan font-style="italic">P</tspan> &lt; 0.0001</text>
<text x="132.65" y="793.10" class="ax2" text-anchor="middle">TCW enrichment</text>
<rect x="93.12" y="795.00" width="7.88" height="0.95" fill="#333"/>
<text transform="translate(10.60,665.90) rotate(-90)" class="ax3" text-anchor="middle">TCA enrichment</text>
<rect x="12.30" y="695.69" width="0.95" height="8.02" fill="#333"/>
<line x1="274.30" y1="578.15" x2="274.30" y2="758.50" stroke="#333" stroke-width="1"/>
<line x1="269.80" y1="754.00" x2="449.60" y2="754.00" stroke="#333" stroke-width="1"/>
<line x1="274.30" y1="754.00" x2="274.30" y2="758.50" stroke="#333" stroke-width="1"/>
<line x1="269.80" y1="754.00" x2="274.30" y2="754.00" stroke="#333" stroke-width="1"/>
<text x="274.30" y="772.80" class="tk2" text-anchor="middle">0</text>
<text x="264.70" y="757.60" class="tk2" text-anchor="end">0</text>
<line x1="309.36" y1="754.00" x2="309.36" y2="758.50" stroke="#333" stroke-width="1"/>
<line x1="269.80" y1="718.83" x2="274.30" y2="718.83" stroke="#333" stroke-width="1"/>
<text x="309.36" y="772.80" class="tk2" text-anchor="middle">1</text>
<text x="264.70" y="722.43" class="tk2" text-anchor="end">1</text>
<line x1="344.42" y1="754.00" x2="344.42" y2="758.50" stroke="#333" stroke-width="1"/>
<line x1="269.80" y1="683.66" x2="274.30" y2="683.66" stroke="#333" stroke-width="1"/>
<text x="344.42" y="772.80" class="tk2" text-anchor="middle">2</text>
<text x="264.70" y="687.26" class="tk2" text-anchor="end">2</text>
<line x1="379.48" y1="754.00" x2="379.48" y2="758.50" stroke="#333" stroke-width="1"/>
<line x1="269.80" y1="648.49" x2="274.30" y2="648.49" stroke="#333" stroke-width="1"/>
<text x="379.48" y="772.80" class="tk2" text-anchor="middle">3</text>
<text x="264.70" y="652.09" class="tk2" text-anchor="end">3</text>
<line x1="414.54" y1="754.00" x2="414.54" y2="758.50" stroke="#333" stroke-width="1"/>
<line x1="269.80" y1="613.32" x2="274.30" y2="613.32" stroke="#333" stroke-width="1"/>
<text x="414.54" y="772.80" class="tk2" text-anchor="middle">4</text>
<text x="264.70" y="616.92" class="tk2" text-anchor="end">4</text>
<line x1="449.60" y1="754.00" x2="449.60" y2="758.50" stroke="#333" stroke-width="1"/>
<line x1="269.80" y1="578.15" x2="274.30" y2="578.15" stroke="#333" stroke-width="1"/>
<text x="449.60" y="772.80" class="tk2" text-anchor="middle">5</text>
<text x="264.70" y="581.75" class="tk2" text-anchor="end">5</text>
<circle cx="309.70" cy="718.50" r="2.05" fill="none" stroke="#22a8da" stroke-width="1.35"/>
<circle cx="310.90" cy="718.50" r="2.05" fill="none" stroke="#22a8da" stroke-width="1.35"/>
<circle cx="309.10" cy="719.54" r="2.05" fill="none" stroke="#22a8da" stroke-width="1.35"/>
<circle cx="310.30" cy="719.54" r="2.05" fill="none" stroke="#22a8da" stroke-width="1.35"/>
<circle cx="307.30" cy="720.58" r="2.05" fill="none" stroke="#22a8da" stroke-width="1.35"/>
<circle cx="308.50" cy="720.58" r="2.05" fill="none" stroke="#22a8da" stroke-width="1.35"/>
<circle cx="309.70" cy="720.58" r="2.05" fill="none" stroke="#22a8da" stroke-width="1.35"/>
<circle cx="310.90" cy="720.58" r="2.05" fill="none" stroke="#22a8da" stroke-width="1.35"/>
<circle cx="306.70" cy="721.62" r="2.05" fill="none" stroke="#22a8da" stroke-width="1.35"/>
<circle cx="307.90" cy="721.62" r="2.05" fill="none" stroke="#22a8da" stroke-width="1.35"/>
<circle cx="309.10" cy="721.62" r="2.05" fill="none" stroke="#22a8da" stroke-width="1.35"/>
<circle cx="310.30" cy="721.62" r="2.05" fill="none" stroke="#22a8da" stroke-width="1.35"/>
<circle cx="306.10" cy="722.66" r="2.05" fill="none" stroke="#22a8da" stroke-width="1.35"/>
<circle cx="307.30" cy="722.66" r="2.05" fill="none" stroke="#22a8da" stroke-width="1.35"/>
<circle cx="308.50" cy="722.66" r="2.05" fill="none" stroke="#22a8da" stroke-width="1.35"/>
<circle cx="309.70" cy="722.66" r="2.05" fill="none" stroke="#22a8da" stroke-width="1.35"/>
<circle cx="305.50" cy="723.70" r="2.05" fill="none" stroke="#22a8da" stroke-width="1.35"/>
<circle cx="306.70" cy="723.70" r="2.05" fill="none" stroke="#22a8da" stroke-width="1.35"/>
<circle cx="307.90" cy="723.70" r="2.05" fill="none" stroke="#22a8da" stroke-width="1.35"/>
<circle cx="309.10" cy="723.70" r="2.05" fill="none" stroke="#22a8da" stroke-width="1.35"/>
<circle cx="310.30" cy="723.70" r="2.05" fill="none" stroke="#22a8da" stroke-width="1.35"/>
<circle cx="304.90" cy="724.74" r="2.05" fill="none" stroke="#22a8da" stroke-width="1.35"/>
<circle cx="306.10" cy="724.74" r="2.05" fill="none" stroke="#22a8da" stroke-width="1.35"/>
<circle cx="307.30" cy="724.74" r="2.05" fill="none" stroke="#22a8da" stroke-width="1.35"/>
<circle cx="308.50" cy="724.74" r="2.05" fill="none" stroke="#22a8da" stroke-width="1.35"/>
<circle cx="309.70" cy="724.74" r="2.05" fill="none" stroke="#22a8da" stroke-width="1.35"/>
<circle cx="304.30" cy="725.77" r="2.05" fill="none" stroke="#22a8da" stroke-width="1.35"/>
<circle cx="305.50" cy="725.77" r="2.05" fill="none" stroke="#22a8da" stroke-width="1.35"/>
<circle cx="306.70" cy="725.77" r="2.05" fill="none" stroke="#22a8da" stroke-width="1.35"/>
<circle cx="307.90" cy="725.77" r="2.05" fill="none" stroke="#22a8da" stroke-width="1.35"/>
<circle cx="309.10" cy="725.77" r="2.05" fill="none" stroke="#22a8da" stroke-width="1.35"/>
<circle cx="303.70" cy="726.81" r="2.05" fill="none" stroke="#22a8da" stroke-width="1.35"/>
<circle cx="304.90" cy="726.81" r="2.05" fill="none" stroke="#22a8da" stroke-width="1.35"/>
<circle cx="306.10" cy="726.81" r="2.05" fill="none" stroke="#22a8da" stroke-width="1.35"/>
<circle cx="307.30" cy="726.81" r="2.05" fill="none" stroke="#22a8da" stroke-width="1.35"/>
<circle cx="308.50" cy="726.81" r="2.05" fill="none" stroke="#22a8da" stroke-width="1.35"/>
<circle cx="309.70" cy="726.81" r="2.05" fill="none" stroke="#22a8da" stroke-width="1.35"/>
<circle cx="303.10" cy="727.85" r="2.05" fill="none" stroke="#22a8da" stroke-width="1.35"/>
<circle cx="304.30" cy="727.85" r="2.05" fill="none" stroke="#22a8da" stroke-width="1.35"/>
<circle cx="305.50" cy="727.85" r="2.05" fill="none" stroke="#22a8da" stroke-width="1.35"/>
<circle cx="306.70" cy="727.85" r="2.05" fill="none" stroke="#22a8da" stroke-width="1.35"/>
<circle cx="307.90" cy="727.85" r="2.05" fill="none" stroke="#22a8da" stroke-width="1.35"/>
<circle cx="309.10" cy="727.85" r="2.05" fill="none" stroke="#22a8da" stroke-width="1.35"/>
<circle cx="302.50" cy="728.89" r="2.05" fill="none" stroke="#22a8da" stroke-width="1.35"/>
<circle cx="303.70" cy="728.89" r="2.05" fill="none" stroke="#22a8da" stroke-width="1.35"/>
<circle cx="304.90" cy="728.89" r="2.05" fill="none" stroke="#22a8da" stroke-width="1.35"/>
<circle cx="306.10" cy="728.89" r="2.05" fill="none" stroke="#22a8da" stroke-width="1.35"/>
<circle cx="307.30" cy="728.89" r="2.05" fill="none" stroke="#22a8da" stroke-width="1.35"/>
<circle cx="308.50" cy="728.89" r="2.05" fill="none" stroke="#22a8da" stroke-width="1.35"/>
<circle cx="303.10" cy="729.93" r="2.05" fill="none" stroke="#22a8da" stroke-width="1.35"/>
<circle cx="304.30" cy="729.93" r="2.05" fill="none" stroke="#22a8da" stroke-width="1.35"/>
<circle cx="305.50" cy="729.93" r="2.05" fill="none" stroke="#22a8da" stroke-width="1.35"/>
<circle cx="306.70" cy="729.93" r="2.05" fill="none" stroke="#22a8da" stroke-width="1.35"/>
<circle cx="307.90" cy="729.93" r="2.05" fill="none" stroke="#22a8da" stroke-width="1.35"/>
<circle cx="302.50" cy="730.97" r="2.05" fill="none" stroke="#22a8da" stroke-width="1.35"/>
<circle cx="303.70" cy="730.97" r="2.05" fill="none" stroke="#22a8da" stroke-width="1.35"/>
<circle cx="304.90" cy="730.97" r="2.05" fill="none" stroke="#22a8da" stroke-width="1.35"/>
<circle cx="306.10" cy="730.97" r="2.05" fill="none" stroke="#22a8da" stroke-width="1.35"/>
<circle cx="303.10" cy="732.01" r="2.05" fill="none" stroke="#22a8da" stroke-width="1.35"/>
<circle cx="304.30" cy="732.01" r="2.05" fill="none" stroke="#22a8da" stroke-width="1.35"/>
<circle cx="305.50" cy="732.01" r="2.05" fill="none" stroke="#22a8da" stroke-width="1.35"/>
<circle cx="317.70" cy="712.04" r="2.05" fill="none" stroke="#e0de38" stroke-width="1.35"/>
<circle cx="317.10" cy="713.08" r="2.05" fill="none" stroke="#e0de38" stroke-width="1.35"/>
<circle cx="318.30" cy="713.08" r="2.05" fill="none" stroke="#e0de38" stroke-width="1.35"/>
<circle cx="316.50" cy="714.12" r="2.05" fill="none" stroke="#e0de38" stroke-width="1.35"/>
<circle cx="317.70" cy="714.12" r="2.05" fill="none" stroke="#e0de38" stroke-width="1.35"/>
<circle cx="318.90" cy="714.12" r="2.05" fill="none" stroke="#e0de38" stroke-width="1.35"/>
<circle cx="315.90" cy="715.16" r="2.05" fill="none" stroke="#e0de38" stroke-width="1.35"/>
<circle cx="317.10" cy="715.16" r="2.05" fill="none" stroke="#e0de38" stroke-width="1.35"/>
<circle cx="318.30" cy="715.16" r="2.05" fill="none" stroke="#e0de38" stroke-width="1.35"/>
<circle cx="314.10" cy="716.20" r="2.05" fill="none" stroke="#e0de38" stroke-width="1.35"/>
<circle cx="315.30" cy="716.20" r="2.05" fill="none" stroke="#e0de38" stroke-width="1.35"/>
<circle cx="316.50" cy="716.20" r="2.05" fill="none" stroke="#e0de38" stroke-width="1.35"/>
<circle cx="317.70" cy="716.20" r="2.05" fill="none" stroke="#e0de38" stroke-width="1.35"/>
<circle cx="314.70" cy="717.24" r="2.05" fill="none" stroke="#e0de38" stroke-width="1.35"/>
<circle cx="315.90" cy="717.24" r="2.05" fill="none" stroke="#e0de38" stroke-width="1.35"/>
<circle cx="317.10" cy="717.24" r="2.05" fill="none" stroke="#e0de38" stroke-width="1.35"/>
<circle cx="314.10" cy="718.27" r="2.05" fill="none" stroke="#e0de38" stroke-width="1.35"/>
<circle cx="315.30" cy="718.27" r="2.05" fill="none" stroke="#e0de38" stroke-width="1.35"/>
<circle cx="316.50" cy="718.27" r="2.05" fill="none" stroke="#e0de38" stroke-width="1.35"/>
<circle cx="314.70" cy="719.31" r="2.05" fill="none" stroke="#e0de38" stroke-width="1.35"/>
<circle cx="315.90" cy="719.31" r="2.05" fill="none" stroke="#e0de38" stroke-width="1.35"/>
<circle cx="314.10" cy="720.35" r="2.05" fill="none" stroke="#e0de38" stroke-width="1.35"/>
<circle cx="315.30" cy="720.35" r="2.05" fill="none" stroke="#e0de38" stroke-width="1.35"/>
<circle cx="316.50" cy="720.35" r="2.05" fill="none" stroke="#e0de38" stroke-width="1.35"/>
<circle cx="314.70" cy="721.39" r="2.05" fill="none" stroke="#e0de38" stroke-width="1.35"/>
<circle cx="315.90" cy="721.39" r="2.05" fill="none" stroke="#e0de38" stroke-width="1.35"/>
<circle cx="314.10" cy="722.43" r="2.05" fill="none" stroke="#e0de38" stroke-width="1.35"/>
<circle cx="315.30" cy="722.43" r="2.05" fill="none" stroke="#e0de38" stroke-width="1.35"/>
<circle cx="314.70" cy="723.47" r="2.05" fill="none" stroke="#e0de38" stroke-width="1.35"/>
<circle cx="322.50" cy="707.00" r="2.05" fill="none" stroke="#da6538" stroke-width="1.35"/>
<circle cx="323.70" cy="707.00" r="2.05" fill="none" stroke="#da6538" stroke-width="1.35"/>
<circle cx="323.10" cy="708.04" r="2.05" fill="none" stroke="#da6538" stroke-width="1.35"/>
<circle cx="322.50" cy="709.08" r="2.05" fill="none" stroke="#da6538" stroke-width="1.35"/>
<circle cx="323.70" cy="709.08" r="2.05" fill="none" stroke="#da6538" stroke-width="1.35"/>
<circle cx="323.10" cy="710.12" r="2.05" fill="none" stroke="#da6538" stroke-width="1.35"/>
<circle cx="322.50" cy="711.16" r="2.05" fill="none" stroke="#da6538" stroke-width="1.35"/>
<circle cx="323.70" cy="711.16" r="2.05" fill="none" stroke="#da6538" stroke-width="1.35"/>
<circle cx="323.10" cy="712.20" r="2.05" fill="none" stroke="#da6538" stroke-width="1.35"/>
<circle cx="322.50" cy="713.24" r="2.05" fill="none" stroke="#da6538" stroke-width="1.35"/>
<circle cx="301.00" cy="734.60" r="2.05" fill="none" stroke="#22a8da" stroke-width="1.35"/>
<circle cx="306.40" cy="718.70" r="2.05" fill="none" stroke="#22a8da" stroke-width="1.35"/>
<circle cx="299.50" cy="728.50" r="2.05" fill="none" stroke="#22a8da" stroke-width="1.35"/>
<circle cx="315.50" cy="707.30" r="2.05" fill="none" stroke="#e0de38" stroke-width="1.35"/>
<circle cx="321.00" cy="700.90" r="2.05" fill="none" stroke="#da6538" stroke-width="1.35"/>
<circle cx="327.30" cy="712.50" r="2.05" fill="none" stroke="#da6538" stroke-width="1.35"/>
<circle cx="325.60" cy="703.80" r="2.05" fill="none" stroke="#da6538" stroke-width="1.35"/>
<circle cx="328.60" cy="697.00" r="2.05" fill="none" stroke="#da6538" stroke-width="1.35"/>
<circle cx="334.40" cy="697.70" r="2.05" fill="none" stroke="#da6538" stroke-width="1.35"/>
<circle cx="337.30" cy="699.20" r="2.05" fill="none" stroke="#da6538" stroke-width="1.35"/>
<circle cx="338.80" cy="694.10" r="2.05" fill="none" stroke="#da6538" stroke-width="1.35"/>
<circle cx="334.40" cy="685.30" r="2.05" fill="none" stroke="#da6538" stroke-width="1.35"/>
<circle cx="340.30" cy="683.10" r="2.05" fill="none" stroke="#da6538" stroke-width="1.35"/>
<circle cx="337.30" cy="687.50" r="2.05" fill="none" stroke="#da6538" stroke-width="1.35"/>
<circle cx="342.40" cy="714.50" r="2.05" fill="none" stroke="#da6538" stroke-width="1.35"/>
<circle cx="331.50" cy="700.70" r="2.05" fill="none" stroke="#da6538" stroke-width="1.35"/>
<circle cx="335.30" cy="685.40" r="2.05" fill="none" stroke="#da6538" stroke-width="1.35"/>
<circle cx="340.40" cy="683.90" r="2.05" fill="none" stroke="#da6538" stroke-width="1.35"/>
<circle cx="333.80" cy="687.60" r="2.05" fill="none" stroke="#da6538" stroke-width="1.35"/>
<circle cx="339.60" cy="690.50" r="2.05" fill="none" stroke="#da6538" stroke-width="1.35"/>
<circle cx="336.00" cy="696.40" r="2.05" fill="none" stroke="#da6538" stroke-width="1.35"/>
<circle cx="330.00" cy="699.00" r="2.05" fill="none" stroke="#da6538" stroke-width="1.35"/>
<circle cx="323.00" cy="705.00" r="2.05" fill="none" stroke="#da6538" stroke-width="1.35"/>
<circle cx="388.20" cy="611.20" r="2.05" fill="none" stroke="#d87aae" stroke-width="1.35"/>
<circle cx="391.50" cy="610.80" r="2.05" fill="none" stroke="#d87aae" stroke-width="1.35"/>
<circle cx="396.90" cy="608.40" r="2.05" fill="none" stroke="#d87aae" stroke-width="1.35"/>
<circle cx="389.30" cy="615.90" r="2.05" fill="none" stroke="#d87aae" stroke-width="1.35"/>
<circle cx="387.30" cy="624.70" r="2.05" fill="none" stroke="#d87aae" stroke-width="1.35"/>
<circle cx="378.40" cy="626.10" r="2.05" fill="none" stroke="#d87aae" stroke-width="1.35"/>
<circle cx="380.60" cy="629.40" r="2.05" fill="none" stroke="#d87aae" stroke-width="1.35"/>
<circle cx="376.20" cy="633.40" r="2.05" fill="none" stroke="#d87aae" stroke-width="1.35"/>
<circle cx="377.30" cy="638.20" r="2.05" fill="none" stroke="#d87aae" stroke-width="1.35"/>
<circle cx="363.00" cy="649.60" r="2.05" fill="none" stroke="#d87aae" stroke-width="1.35"/>
<circle cx="362.00" cy="654.00" r="2.05" fill="none" stroke="#d87aae" stroke-width="1.35"/>
<circle cx="355.70" cy="658.10" r="2.05" fill="none" stroke="#d87aae" stroke-width="1.35"/>
<circle cx="351.30" cy="662.00" r="2.05" fill="none" stroke="#d87aae" stroke-width="1.35"/>
<circle cx="349.10" cy="664.20" r="2.05" fill="none" stroke="#d87aae" stroke-width="1.35"/>
<circle cx="347.70" cy="666.40" r="2.05" fill="none" stroke="#d87aae" stroke-width="1.35"/>
<circle cx="355.70" cy="667.90" r="2.05" fill="none" stroke="#d87aae" stroke-width="1.35"/>
<circle cx="344.00" cy="671.20" r="2.05" fill="none" stroke="#d87aae" stroke-width="1.35"/>
<circle cx="348.40" cy="678.80" r="2.05" fill="none" stroke="#d87aae" stroke-width="1.35"/>
<circle cx="344.70" cy="684.70" r="2.05" fill="none" stroke="#d87aae" stroke-width="1.35"/>
<line x1="274.30" y1="754.00" x2="449.60" y2="578.15" stroke="#222" stroke-width="1.1"/>
<text x="362.75" y="583.00" class="ti2" text-anchor="middle">BRCA</text>
<text x="449.50" y="746.10" class="pv" text-anchor="end"><tspan font-style="italic">P</tspan> &lt; 0.0001</text>
<text x="361.95" y="793.10" class="ax2" text-anchor="middle">TCW enrichment</text>
<rect x="322.42" y="795.00" width="7.88" height="0.95" fill="#333"/>
<text transform="translate(245.60,665.70) rotate(-90)" class="ax3" text-anchor="middle">TCA enrichment</text>
<rect x="247.30" y="695.49" width="0.95" height="8.02" fill="#333"/>
<line x1="503.80" y1="578.45" x2="503.80" y2="758.80" stroke="#333" stroke-width="1"/>
<line x1="499.30" y1="754.30" x2="680.30" y2="754.30" stroke="#333" stroke-width="1"/>
<line x1="503.80" y1="754.30" x2="503.80" y2="758.80" stroke="#333" stroke-width="1"/>
<line x1="499.30" y1="754.30" x2="503.80" y2="754.30" stroke="#333" stroke-width="1"/>
<text x="503.80" y="773.10" class="tk2" text-anchor="middle">0</text>
<text x="494.20" y="757.90" class="tk2" text-anchor="end">0</text>
<line x1="539.10" y1="754.30" x2="539.10" y2="758.80" stroke="#333" stroke-width="1"/>
<line x1="499.30" y1="719.13" x2="503.80" y2="719.13" stroke="#333" stroke-width="1"/>
<text x="539.10" y="773.10" class="tk2" text-anchor="middle">1</text>
<text x="494.20" y="722.73" class="tk2" text-anchor="end">1</text>
<line x1="574.40" y1="754.30" x2="574.40" y2="758.80" stroke="#333" stroke-width="1"/>
<line x1="499.30" y1="683.96" x2="503.80" y2="683.96" stroke="#333" stroke-width="1"/>
<text x="574.40" y="773.10" class="tk2" text-anchor="middle">2</text>
<text x="494.20" y="687.56" class="tk2" text-anchor="end">2</text>
<line x1="609.70" y1="754.30" x2="609.70" y2="758.80" stroke="#333" stroke-width="1"/>
<line x1="499.30" y1="648.79" x2="503.80" y2="648.79" stroke="#333" stroke-width="1"/>
<text x="609.70" y="773.10" class="tk2" text-anchor="middle">3</text>
<text x="494.20" y="652.39" class="tk2" text-anchor="end">3</text>
<line x1="645.00" y1="754.30" x2="645.00" y2="758.80" stroke="#333" stroke-width="1"/>
<line x1="499.30" y1="613.62" x2="503.80" y2="613.62" stroke="#333" stroke-width="1"/>
<text x="645.00" y="773.10" class="tk2" text-anchor="middle">4</text>
<text x="494.20" y="617.22" class="tk2" text-anchor="end">4</text>
<line x1="680.30" y1="754.30" x2="680.30" y2="758.80" stroke="#333" stroke-width="1"/>
<line x1="499.30" y1="578.45" x2="503.80" y2="578.45" stroke="#333" stroke-width="1"/>
<text x="680.30" y="773.10" class="tk2" text-anchor="middle">5</text>
<text x="494.20" y="582.05" class="tk2" text-anchor="end">5</text>
<circle cx="533.50" cy="716.60" r="2.05" fill="none" stroke="#22a8da" stroke-width="1.35"/>
<circle cx="532.00" cy="719.20" r="2.05" fill="none" stroke="#22a8da" stroke-width="1.35"/>
<circle cx="535.00" cy="719.20" r="2.05" fill="none" stroke="#22a8da" stroke-width="1.35"/>
<circle cx="530.50" cy="721.79" r="2.05" fill="none" stroke="#22a8da" stroke-width="1.35"/>
<circle cx="533.50" cy="721.79" r="2.05" fill="none" stroke="#22a8da" stroke-width="1.35"/>
<circle cx="529.00" cy="724.39" r="2.05" fill="none" stroke="#22a8da" stroke-width="1.35"/>
<circle cx="532.00" cy="724.39" r="2.05" fill="none" stroke="#22a8da" stroke-width="1.35"/>
<circle cx="535.00" cy="724.39" r="2.05" fill="none" stroke="#22a8da" stroke-width="1.35"/>
<circle cx="527.50" cy="726.99" r="2.05" fill="none" stroke="#22a8da" stroke-width="1.35"/>
<circle cx="530.50" cy="726.99" r="2.05" fill="none" stroke="#22a8da" stroke-width="1.35"/>
<circle cx="533.50" cy="726.99" r="2.05" fill="none" stroke="#22a8da" stroke-width="1.35"/>
<circle cx="526.00" cy="729.59" r="2.05" fill="none" stroke="#22a8da" stroke-width="1.35"/>
<circle cx="529.00" cy="729.59" r="2.05" fill="none" stroke="#22a8da" stroke-width="1.35"/>
<circle cx="532.00" cy="729.59" r="2.05" fill="none" stroke="#22a8da" stroke-width="1.35"/>
<circle cx="524.50" cy="732.19" r="2.05" fill="none" stroke="#22a8da" stroke-width="1.35"/>
<circle cx="527.50" cy="732.19" r="2.05" fill="none" stroke="#22a8da" stroke-width="1.35"/>
<circle cx="530.50" cy="732.19" r="2.05" fill="none" stroke="#22a8da" stroke-width="1.35"/>
<circle cx="546.50" cy="702.60" r="2.05" fill="none" stroke="#e0de38" stroke-width="1.35"/>
<circle cx="545.00" cy="705.20" r="2.05" fill="none" stroke="#e0de38" stroke-width="1.35"/>
<circle cx="543.50" cy="707.79" r="2.05" fill="none" stroke="#e0de38" stroke-width="1.35"/>
<circle cx="546.50" cy="707.79" r="2.05" fill="none" stroke="#e0de38" stroke-width="1.35"/>
<circle cx="539.00" cy="710.39" r="2.05" fill="none" stroke="#e0de38" stroke-width="1.35"/>
<circle cx="542.00" cy="710.39" r="2.05" fill="none" stroke="#e0de38" stroke-width="1.35"/>
<circle cx="545.00" cy="710.39" r="2.05" fill="none" stroke="#e0de38" stroke-width="1.35"/>
<circle cx="540.50" cy="712.99" r="2.05" fill="none" stroke="#e0de38" stroke-width="1.35"/>
<circle cx="543.50" cy="712.99" r="2.05" fill="none" stroke="#e0de38" stroke-width="1.35"/>
<circle cx="539.00" cy="715.59" r="2.05" fill="none" stroke="#e0de38" stroke-width="1.35"/>
<circle cx="542.00" cy="715.59" r="2.05" fill="none" stroke="#e0de38" stroke-width="1.35"/>
<circle cx="545.00" cy="715.59" r="2.05" fill="none" stroke="#e0de38" stroke-width="1.35"/>
<circle cx="540.50" cy="718.19" r="2.05" fill="none" stroke="#e0de38" stroke-width="1.35"/>
<circle cx="543.50" cy="718.19" r="2.05" fill="none" stroke="#e0de38" stroke-width="1.35"/>
<circle cx="542.00" cy="720.78" r="2.05" fill="none" stroke="#e0de38" stroke-width="1.35"/>
<circle cx="551.00" cy="699.00" r="2.05" fill="none" stroke="#da6538" stroke-width="1.35"/>
<circle cx="554.20" cy="699.00" r="2.05" fill="none" stroke="#da6538" stroke-width="1.35"/>
<circle cx="552.60" cy="701.77" r="2.05" fill="none" stroke="#da6538" stroke-width="1.35"/>
<circle cx="555.80" cy="701.77" r="2.05" fill="none" stroke="#da6538" stroke-width="1.35"/>
<circle cx="559.00" cy="701.77" r="2.05" fill="none" stroke="#da6538" stroke-width="1.35"/>
<circle cx="551.00" cy="704.54" r="2.05" fill="none" stroke="#da6538" stroke-width="1.35"/>
<circle cx="554.20" cy="704.54" r="2.05" fill="none" stroke="#da6538" stroke-width="1.35"/>
<circle cx="557.40" cy="704.54" r="2.05" fill="none" stroke="#da6538" stroke-width="1.35"/>
<circle cx="552.60" cy="707.31" r="2.05" fill="none" stroke="#da6538" stroke-width="1.35"/>
<circle cx="555.80" cy="707.31" r="2.05" fill="none" stroke="#da6538" stroke-width="1.35"/>
<circle cx="551.00" cy="710.08" r="2.05" fill="none" stroke="#da6538" stroke-width="1.35"/>
<circle cx="554.20" cy="710.08" r="2.05" fill="none" stroke="#da6538" stroke-width="1.35"/>
<circle cx="521.10" cy="732.20" r="2.05" fill="none" stroke="#22a8da" stroke-width="1.35"/>
<circle cx="523.80" cy="729.20" r="2.05" fill="none" stroke="#22a8da" stroke-width="1.35"/>
<circle cx="527.30" cy="723.90" r="2.05" fill="none" stroke="#22a8da" stroke-width="1.35"/>
<circle cx="530.30" cy="717.80" r="2.05" fill="none" stroke="#22a8da" stroke-width="1.35"/>
<circle cx="533.80" cy="712.50" r="2.05" fill="none" stroke="#22a8da" stroke-width="1.35"/>
<circle cx="536.00" cy="714.30" r="2.05" fill="none" stroke="#22a8da" stroke-width="1.35"/>
<circle cx="532.50" cy="721.30" r="2.05" fill="none" stroke="#22a8da" stroke-width="1.35"/>
<circle cx="536.90" cy="727.40" r="2.05" fill="none" stroke="#22a8da" stroke-width="1.35"/>
<circle cx="531.60" cy="730.90" r="2.05" fill="none" stroke="#22a8da" stroke-width="1.35"/>
<circle cx="531.20" cy="736.20" r="2.05" fill="none" stroke="#22a8da" stroke-width="1.35"/>
<circle cx="526.40" cy="735.30" r="2.05" fill="none" stroke="#22a8da" stroke-width="1.35"/>
<circle cx="528.10" cy="727.40" r="2.05" fill="none" stroke="#22a8da" stroke-width="1.35"/>
<circle cx="534.00" cy="716.00" r="2.05" fill="none" stroke="#22a8da" stroke-width="1.35"/>
<circle cx="530.00" cy="725.00" r="2.05" fill="none" stroke="#22a8da" stroke-width="1.35"/>
<circle cx="525.00" cy="731.00" r="2.05" fill="none" stroke="#22a8da" stroke-width="1.35"/>
<circle cx="535.00" cy="720.00" r="2.05" fill="none" stroke="#22a8da" stroke-width="1.35"/>
<circle cx="538.60" cy="709.00" r="2.05" fill="none" stroke="#e0de38" stroke-width="1.35"/>
<circle cx="543.00" cy="703.80" r="2.05" fill="none" stroke="#e0de38" stroke-width="1.35"/>
<circle cx="547.40" cy="699.40" r="2.05" fill="none" stroke="#e0de38" stroke-width="1.35"/>
<circle cx="545.60" cy="707.30" r="2.05" fill="none" stroke="#e0de38" stroke-width="1.35"/>
<circle cx="541.30" cy="714.30" r="2.05" fill="none" stroke="#e0de38" stroke-width="1.35"/>
<circle cx="543.90" cy="719.50" r="2.05" fill="none" stroke="#e0de38" stroke-width="1.35"/>
<circle cx="540.40" cy="725.70" r="2.05" fill="none" stroke="#e0de38" stroke-width="1.35"/>
<circle cx="547.00" cy="712.50" r="2.05" fill="none" stroke="#e0de38" stroke-width="1.35"/>
<circle cx="539.00" cy="718.00" r="2.05" fill="none" stroke="#e0de38" stroke-width="1.35"/>
<circle cx="544.00" cy="712.00" r="2.05" fill="none" stroke="#e0de38" stroke-width="1.35"/>
<circle cx="541.00" cy="706.00" r="2.05" fill="none" stroke="#e0de38" stroke-width="1.35"/>
<circle cx="538.00" cy="722.00" r="2.05" fill="none" stroke="#e0de38" stroke-width="1.35"/>
<circle cx="551.80" cy="697.70" r="2.05" fill="none" stroke="#da6538" stroke-width="1.35"/>
<circle cx="556.20" cy="700.30" r="2.05" fill="none" stroke="#da6538" stroke-width="1.35"/>
<circle cx="559.70" cy="703.80" r="2.05" fill="none" stroke="#da6538" stroke-width="1.35"/>
<circle cx="552.70" cy="705.50" r="2.05" fill="none" stroke="#da6538" stroke-width="1.35"/>
<circle cx="555.30" cy="713.40" r="2.05" fill="none" stroke="#da6538" stroke-width="1.35"/>
<circle cx="550.90" cy="713.40" r="2.05" fill="none" stroke="#da6538" stroke-width="1.35"/>
<circle cx="560.50" cy="693.30" r="2.05" fill="none" stroke="#da6538" stroke-width="1.35"/>
<circle cx="564.00" cy="691.50" r="2.05" fill="none" stroke="#da6538" stroke-width="1.35"/>
<circle cx="567.50" cy="694.60" r="2.05" fill="none" stroke="#da6538" stroke-width="1.35"/>
<circle cx="563.20" cy="697.70" r="2.05" fill="none" stroke="#da6538" stroke-width="1.35"/>
<circle cx="565.80" cy="686.30" r="2.05" fill="none" stroke="#da6538" stroke-width="1.35"/>
<circle cx="562.70" cy="678.40" r="2.05" fill="none" stroke="#da6538" stroke-width="1.35"/>
<circle cx="563.20" cy="681.90" r="2.05" fill="none" stroke="#da6538" stroke-width="1.35"/>
<circle cx="562.70" cy="685.40" r="2.05" fill="none" stroke="#da6538" stroke-width="1.35"/>
<circle cx="569.30" cy="683.60" r="2.05" fill="none" stroke="#da6538" stroke-width="1.35"/>
<circle cx="554.00" cy="707.00" r="2.05" fill="none" stroke="#da6538" stroke-width="1.35"/>
<circle cx="557.00" cy="695.00" r="2.05" fill="none" stroke="#da6538" stroke-width="1.35"/>
<circle cx="549.00" cy="702.00" r="2.05" fill="none" stroke="#da6538" stroke-width="1.35"/>
<circle cx="553.00" cy="710.00" r="2.05" fill="none" stroke="#da6538" stroke-width="1.35"/>
<circle cx="572.80" cy="667.90" r="2.05" fill="none" stroke="#d87aae" stroke-width="1.35"/>
<circle cx="572.80" cy="671.40" r="2.05" fill="none" stroke="#d87aae" stroke-width="1.35"/>
<circle cx="572.80" cy="678.40" r="2.05" fill="none" stroke="#d87aae" stroke-width="1.35"/>
<circle cx="630.10" cy="601.10" r="2.05" fill="none" stroke="#d87aae" stroke-width="1.35"/>
<circle cx="630.70" cy="604.00" r="2.05" fill="none" stroke="#d87aae" stroke-width="1.35"/>
<circle cx="622.50" cy="604.60" r="2.05" fill="none" stroke="#d87aae" stroke-width="1.35"/>
<circle cx="624.20" cy="608.70" r="2.05" fill="none" stroke="#d87aae" stroke-width="1.35"/>
<circle cx="622.50" cy="612.20" r="2.05" fill="none" stroke="#d87aae" stroke-width="1.35"/>
<circle cx="621.90" cy="618.60" r="2.05" fill="none" stroke="#d87aae" stroke-width="1.35"/>
<circle cx="614.90" cy="621.50" r="2.05" fill="none" stroke="#d87aae" stroke-width="1.35"/>
<circle cx="612.00" cy="623.90" r="2.05" fill="none" stroke="#d87aae" stroke-width="1.35"/>
<circle cx="602.60" cy="628.50" r="2.05" fill="none" stroke="#d87aae" stroke-width="1.35"/>
<circle cx="604.40" cy="630.30" r="2.05" fill="none" stroke="#d87aae" stroke-width="1.35"/>
<circle cx="591.00" cy="647.80" r="2.05" fill="none" stroke="#d87aae" stroke-width="1.35"/>
<circle cx="592.70" cy="650.70" r="2.05" fill="none" stroke="#d87aae" stroke-width="1.35"/>
<circle cx="592.10" cy="653.10" r="2.05" fill="none" stroke="#d87aae" stroke-width="1.35"/>
<circle cx="588.00" cy="656.00" r="2.05" fill="none" stroke="#d87aae" stroke-width="1.35"/>
<circle cx="595.00" cy="657.70" r="2.05" fill="none" stroke="#d87aae" stroke-width="1.35"/>
<circle cx="581.00" cy="661.20" r="2.05" fill="none" stroke="#d87aae" stroke-width="1.35"/>
<circle cx="584.00" cy="662.40" r="2.05" fill="none" stroke="#d87aae" stroke-width="1.35"/>
<circle cx="581.60" cy="667.70" r="2.05" fill="none" stroke="#d87aae" stroke-width="1.35"/>
<circle cx="574.00" cy="668.30" r="2.05" fill="none" stroke="#d87aae" stroke-width="1.35"/>
<circle cx="577.00" cy="669.40" r="2.05" fill="none" stroke="#d87aae" stroke-width="1.35"/>
<circle cx="573.40" cy="671.80" r="2.05" fill="none" stroke="#d87aae" stroke-width="1.35"/>
<circle cx="578.10" cy="672.90" r="2.05" fill="none" stroke="#d87aae" stroke-width="1.35"/>
<circle cx="572.80" cy="677.60" r="2.05" fill="none" stroke="#d87aae" stroke-width="1.35"/>
<circle cx="577.50" cy="677.00" r="2.05" fill="none" stroke="#d87aae" stroke-width="1.35"/>
<line x1="503.80" y1="754.30" x2="680.30" y2="578.45" stroke="#222" stroke-width="1.1"/>
<text x="592.00" y="583.00" class="ti2" text-anchor="middle">BRCA ICGC</text>
<text x="680.20" y="746.10" class="pv" text-anchor="end"><tspan font-style="italic">P</tspan> = 0.0050</text>
<text x="592.65" y="793.10" class="ax2" text-anchor="middle">TCW enrichment</text>
<rect x="553.12" y="795.00" width="7.88" height="0.95" fill="#333"/>
<text transform="translate(476.80,666.00) rotate(-90)" class="ax3" text-anchor="middle">TCA enrichment</text>
<rect x="478.50" y="695.79" width="0.95" height="8.02" fill="#333"/>
<line x1="38.60" y1="819.05" x2="38.60" y2="999.40" stroke="#333" stroke-width="1"/>
<line x1="34.10" y1="994.90" x2="214.60" y2="994.90" stroke="#333" stroke-width="1"/>
<line x1="38.60" y1="994.90" x2="38.60" y2="999.40" stroke="#333" stroke-width="1"/>
<line x1="34.10" y1="994.90" x2="38.60" y2="994.90" stroke="#333" stroke-width="1"/>
<text x="38.60" y="1013.70" class="tk2" text-anchor="middle">0</text>
<text x="29.00" y="998.50" class="tk2" text-anchor="end">0</text>
<line x1="73.80" y1="994.90" x2="73.80" y2="999.40" stroke="#333" stroke-width="1"/>
<line x1="34.10" y1="959.73" x2="38.60" y2="959.73" stroke="#333" stroke-width="1"/>
<text x="73.80" y="1013.70" class="tk2" text-anchor="middle">1</text>
<text x="29.00" y="963.33" class="tk2" text-anchor="end">1</text>
<line x1="109.00" y1="994.90" x2="109.00" y2="999.40" stroke="#333" stroke-width="1"/>
<line x1="34.10" y1="924.56" x2="38.60" y2="924.56" stroke="#333" stroke-width="1"/>
<text x="109.00" y="1013.70" class="tk2" text-anchor="middle">2</text>
<text x="29.00" y="928.16" class="tk2" text-anchor="end">2</text>
<line x1="144.20" y1="994.90" x2="144.20" y2="999.40" stroke="#333" stroke-width="1"/>
<line x1="34.10" y1="889.39" x2="38.60" y2="889.39" stroke="#333" stroke-width="1"/>
<text x="144.20" y="1013.70" class="tk2" text-anchor="middle">3</text>
<text x="29.00" y="892.99" class="tk2" text-anchor="end">3</text>
<line x1="179.40" y1="994.90" x2="179.40" y2="999.40" stroke="#333" stroke-width="1"/>
<line x1="34.10" y1="854.22" x2="38.60" y2="854.22" stroke="#333" stroke-width="1"/>
<text x="179.40" y="1013.70" class="tk2" text-anchor="middle">4</text>
<text x="29.00" y="857.82" class="tk2" text-anchor="end">4</text>
<line x1="214.60" y1="994.90" x2="214.60" y2="999.40" stroke="#333" stroke-width="1"/>
<line x1="34.10" y1="819.05" x2="38.60" y2="819.05" stroke="#333" stroke-width="1"/>
<text x="214.60" y="1013.70" class="tk2" text-anchor="middle">5</text>
<text x="29.00" y="822.65" class="tk2" text-anchor="end">5</text>
<circle cx="76.60" cy="963.60" r="2.05" fill="none" stroke="#22a8da" stroke-width="1.35"/>
<circle cx="76.60" cy="951.60" r="2.05" fill="none" stroke="#22a8da" stroke-width="1.35"/>
<circle cx="80.30" cy="954.50" r="2.05" fill="none" stroke="#22a8da" stroke-width="1.35"/>
<circle cx="81.90" cy="949.60" r="2.05" fill="none" stroke="#22a8da" stroke-width="1.35"/>
<circle cx="84.00" cy="948.50" r="2.05" fill="none" stroke="#22a8da" stroke-width="1.35"/>
<circle cx="85.10" cy="942.40" r="2.05" fill="none" stroke="#e0de38" stroke-width="1.35"/>
<circle cx="88.30" cy="944.30" r="2.05" fill="none" stroke="#e0de38" stroke-width="1.35"/>
<circle cx="84.60" cy="953.30" r="2.05" fill="none" stroke="#e0de38" stroke-width="1.35"/>
<circle cx="96.80" cy="931.50" r="2.05" fill="none" stroke="#e0de38" stroke-width="1.35"/>
<circle cx="103.90" cy="917.20" r="2.05" fill="none" stroke="#e0de38" stroke-width="1.35"/>
<circle cx="106.40" cy="914.60" r="2.05" fill="none" stroke="#da6538" stroke-width="1.35"/>
<circle cx="112.10" cy="915.10" r="2.05" fill="none" stroke="#da6538" stroke-width="1.35"/>
<circle cx="116.70" cy="902.70" r="2.05" fill="none" stroke="#da6538" stroke-width="1.35"/>
<circle cx="122.30" cy="897.40" r="2.05" fill="none" stroke="#da6538" stroke-width="1.35"/>
<circle cx="122.30" cy="892.60" r="2.05" fill="none" stroke="#da6538" stroke-width="1.35"/>
<circle cx="134.40" cy="879.50" r="2.05" fill="none" stroke="#da6538" stroke-width="1.35"/>
<circle cx="139.70" cy="863.20" r="2.05" fill="none" stroke="#da6538" stroke-width="1.35"/>
<circle cx="146.10" cy="854.10" r="2.05" fill="none" stroke="#d87aae" stroke-width="1.35"/>
<circle cx="143.70" cy="860.20" r="2.05" fill="none" stroke="#d87aae" stroke-width="1.35"/>
<circle cx="147.70" cy="860.20" r="2.05" fill="none" stroke="#d87aae" stroke-width="1.35"/>
<circle cx="150.90" cy="860.20" r="2.05" fill="none" stroke="#d87aae" stroke-width="1.35"/>
<circle cx="158.10" cy="846.40" r="2.05" fill="none" stroke="#d87aae" stroke-width="1.35"/>
<circle cx="160.10" cy="846.40" r="2.05" fill="none" stroke="#d87aae" stroke-width="1.35"/>
<line x1="38.60" y1="994.90" x2="214.60" y2="819.05" stroke="#222" stroke-width="1.1"/>
<text x="127.30" y="819.40" class="ti2" text-anchor="middle">HNSC</text>
<text x="207.10" y="982.10" class="pv" text-anchor="end"><tspan font-style="italic">P</tspan> = 0.0187</text>
<text x="127.40" y="1033.20" class="ax2" text-anchor="middle">TCW enrichment</text>
<rect x="87.87" y="1035.10" width="7.88" height="0.95" fill="#333"/>
<text transform="translate(11.70,906.60) rotate(-90)" class="ax3" text-anchor="middle">TCA enrichment</text>
<rect x="13.40" y="936.39" width="0.95" height="8.02" fill="#333"/>
<line x1="274.30" y1="819.05" x2="274.30" y2="999.40" stroke="#333" stroke-width="1"/>
<line x1="269.80" y1="994.90" x2="449.80" y2="994.90" stroke="#333" stroke-width="1"/>
<line x1="274.30" y1="994.90" x2="274.30" y2="999.40" stroke="#333" stroke-width="1"/>
<line x1="269.80" y1="994.90" x2="274.30" y2="994.90" stroke="#333" stroke-width="1"/>
<text x="274.30" y="1013.70" class="tk2" text-anchor="middle">0</text>
<text x="264.70" y="998.50" class="tk2" text-anchor="end">0</text>
<line x1="309.40" y1="994.90" x2="309.40" y2="999.40" stroke="#333" stroke-width="1"/>
<line x1="269.80" y1="959.73" x2="274.30" y2="959.73" stroke="#333" stroke-width="1"/>
<text x="309.40" y="1013.70" class="tk2" text-anchor="middle">1</text>
<text x="264.70" y="963.33" class="tk2" text-anchor="end">1</text>
<line x1="344.50" y1="994.90" x2="344.50" y2="999.40" stroke="#333" stroke-width="1"/>
<line x1="269.80" y1="924.56" x2="274.30" y2="924.56" stroke="#333" stroke-width="1"/>
<text x="344.50" y="1013.70" class="tk2" text-anchor="middle">2</text>
<text x="264.70" y="928.16" class="tk2" text-anchor="end">2</text>
<line x1="379.60" y1="994.90" x2="379.60" y2="999.40" stroke="#333" stroke-width="1"/>
<line x1="269.80" y1="889.39" x2="274.30" y2="889.39" stroke="#333" stroke-width="1"/>
<text x="379.60" y="1013.70" class="tk2" text-anchor="middle">3</text>
<text x="264.70" y="892.99" class="tk2" text-anchor="end">3</text>
<line x1="414.70" y1="994.90" x2="414.70" y2="999.40" stroke="#333" stroke-width="1"/>
<line x1="269.80" y1="854.22" x2="274.30" y2="854.22" stroke="#333" stroke-width="1"/>
<text x="414.70" y="1013.70" class="tk2" text-anchor="middle">4</text>
<text x="264.70" y="857.82" class="tk2" text-anchor="end">4</text>
<line x1="449.80" y1="994.90" x2="449.80" y2="999.40" stroke="#333" stroke-width="1"/>
<line x1="269.80" y1="819.05" x2="274.30" y2="819.05" stroke="#333" stroke-width="1"/>
<text x="449.80" y="1013.70" class="tk2" text-anchor="middle">5</text>
<text x="264.70" y="822.65" class="tk2" text-anchor="end">5</text>
<circle cx="309.50" cy="960.04" r="2.05" fill="none" stroke="#22a8da" stroke-width="1.35"/>
<circle cx="310.70" cy="960.04" r="2.05" fill="none" stroke="#22a8da" stroke-width="1.35"/>
<circle cx="308.90" cy="961.08" r="2.05" fill="none" stroke="#22a8da" stroke-width="1.35"/>
<circle cx="310.10" cy="961.08" r="2.05" fill="none" stroke="#22a8da" stroke-width="1.35"/>
<circle cx="311.30" cy="961.08" r="2.05" fill="none" stroke="#22a8da" stroke-width="1.35"/>
<circle cx="307.10" cy="962.12" r="2.05" fill="none" stroke="#22a8da" stroke-width="1.35"/>
<circle cx="308.30" cy="962.12" r="2.05" fill="none" stroke="#22a8da" stroke-width="1.35"/>
<circle cx="309.50" cy="962.12" r="2.05" fill="none" stroke="#22a8da" stroke-width="1.35"/>
<circle cx="310.70" cy="962.12" r="2.05" fill="none" stroke="#22a8da" stroke-width="1.35"/>
<circle cx="307.70" cy="963.16" r="2.05" fill="none" stroke="#22a8da" stroke-width="1.35"/>
<circle cx="308.90" cy="963.16" r="2.05" fill="none" stroke="#22a8da" stroke-width="1.35"/>
<circle cx="310.10" cy="963.16" r="2.05" fill="none" stroke="#22a8da" stroke-width="1.35"/>
<circle cx="315.20" cy="947.50" r="2.05" fill="none" stroke="#e0de38" stroke-width="1.35"/>
<circle cx="316.40" cy="947.50" r="2.05" fill="none" stroke="#e0de38" stroke-width="1.35"/>
<circle cx="315.80" cy="948.54" r="2.05" fill="none" stroke="#e0de38" stroke-width="1.35"/>
<circle cx="317.00" cy="948.54" r="2.05" fill="none" stroke="#e0de38" stroke-width="1.35"/>
<circle cx="315.20" cy="949.58" r="2.05" fill="none" stroke="#e0de38" stroke-width="1.35"/>
<circle cx="316.40" cy="949.58" r="2.05" fill="none" stroke="#e0de38" stroke-width="1.35"/>
<circle cx="317.60" cy="949.58" r="2.05" fill="none" stroke="#e0de38" stroke-width="1.35"/>
<circle cx="314.60" cy="950.62" r="2.05" fill="none" stroke="#e0de38" stroke-width="1.35"/>
<circle cx="315.80" cy="950.62" r="2.05" fill="none" stroke="#e0de38" stroke-width="1.35"/>
<circle cx="317.00" cy="950.62" r="2.05" fill="none" stroke="#e0de38" stroke-width="1.35"/>
<circle cx="315.20" cy="951.66" r="2.05" fill="none" stroke="#e0de38" stroke-width="1.35"/>
<circle cx="316.40" cy="951.66" r="2.05" fill="none" stroke="#e0de38" stroke-width="1.35"/>
<circle cx="322.60" cy="940.54" r="2.05" fill="none" stroke="#da6538" stroke-width="1.35"/>
<circle cx="322.00" cy="941.58" r="2.05" fill="none" stroke="#da6538" stroke-width="1.35"/>
<circle cx="323.20" cy="941.58" r="2.05" fill="none" stroke="#da6538" stroke-width="1.35"/>
<circle cx="322.60" cy="942.62" r="2.05" fill="none" stroke="#da6538" stroke-width="1.35"/>
<circle cx="322.00" cy="943.66" r="2.05" fill="none" stroke="#da6538" stroke-width="1.35"/>
<circle cx="303.10" cy="977.00" r="2.05" fill="none" stroke="#22a8da" stroke-width="1.35"/>
<circle cx="303.90" cy="969.60" r="2.05" fill="none" stroke="#22a8da" stroke-width="1.35"/>
<circle cx="309.70" cy="950.70" r="2.05" fill="none" stroke="#22a8da" stroke-width="1.35"/>
<circle cx="313.10" cy="978.30" r="2.05" fill="none" stroke="#e0de38" stroke-width="1.35"/>
<circle cx="326.50" cy="967.60" r="2.05" fill="none" stroke="#da6538" stroke-width="1.35"/>
<circle cx="321.90" cy="942.50" r="2.05" fill="none" stroke="#da6538" stroke-width="1.35"/>
<circle cx="327.90" cy="934.50" r="2.05" fill="none" stroke="#da6538" stroke-width="1.35"/>
<circle cx="331.50" cy="931.20" r="2.05" fill="none" stroke="#da6538" stroke-width="1.35"/>
<circle cx="334.40" cy="929.90" r="2.05" fill="none" stroke="#da6538" stroke-width="1.35"/>
<circle cx="334.40" cy="924.40" r="2.05" fill="none" stroke="#da6538" stroke-width="1.35"/>
<circle cx="323.50" cy="946.00" r="2.05" fill="none" stroke="#da6538" stroke-width="1.35"/>
<circle cx="342.30" cy="919.40" r="2.05" fill="none" stroke="#d87aae" stroke-width="1.35"/>
<circle cx="344.30" cy="916.10" r="2.05" fill="none" stroke="#d87aae" stroke-width="1.35"/>
<circle cx="347.60" cy="913.20" r="2.05" fill="none" stroke="#d87aae" stroke-width="1.35"/>
<circle cx="354.80" cy="910.20" r="2.05" fill="none" stroke="#d87aae" stroke-width="1.35"/>
<circle cx="351.80" cy="901.00" r="2.05" fill="none" stroke="#d87aae" stroke-width="1.35"/>
<circle cx="357.80" cy="897.30" r="2.05" fill="none" stroke="#d87aae" stroke-width="1.35"/>
<circle cx="358.50" cy="892.80" r="2.05" fill="none" stroke="#d87aae" stroke-width="1.35"/>
<circle cx="370.30" cy="882.30" r="2.05" fill="none" stroke="#d87aae" stroke-width="1.35"/>
<circle cx="372.50" cy="875.10" r="2.05" fill="none" stroke="#d87aae" stroke-width="1.35"/>
<circle cx="379.10" cy="864.90" r="2.05" fill="none" stroke="#d87aae" stroke-width="1.35"/>
<line x1="274.30" y1="994.90" x2="449.80" y2="819.05" stroke="#222" stroke-width="1.1"/>
<text x="362.20" y="819.40" class="ti2" text-anchor="middle">LUAD</text>
<text x="449.50" y="982.10" class="pv" text-anchor="end"><tspan font-style="italic">P</tspan> &lt; 0.0001</text>
<text x="362.65" y="1033.20" class="ax2" text-anchor="middle">TCW enrichment</text>
<rect x="323.12" y="1035.10" width="7.88" height="0.95" fill="#333"/>
<text transform="translate(245.60,906.60) rotate(-90)" class="ax3" text-anchor="middle">TCA enrichment</text>
<rect x="247.30" y="936.39" width="0.95" height="8.02" fill="#333"/>
<line x1="503.80" y1="819.25" x2="503.80" y2="999.60" stroke="#333" stroke-width="1"/>
<line x1="499.30" y1="995.10" x2="680.30" y2="995.10" stroke="#333" stroke-width="1"/>
<line x1="503.80" y1="995.10" x2="503.80" y2="999.60" stroke="#333" stroke-width="1"/>
<line x1="499.30" y1="995.10" x2="503.80" y2="995.10" stroke="#333" stroke-width="1"/>
<text x="503.80" y="1013.90" class="tk2" text-anchor="middle">0</text>
<text x="494.20" y="998.70" class="tk2" text-anchor="end">0</text>
<line x1="539.10" y1="995.10" x2="539.10" y2="999.60" stroke="#333" stroke-width="1"/>
<line x1="499.30" y1="959.93" x2="503.80" y2="959.93" stroke="#333" stroke-width="1"/>
<text x="539.10" y="1013.90" class="tk2" text-anchor="middle">1</text>
<text x="494.20" y="963.53" class="tk2" text-anchor="end">1</text>
<line x1="574.40" y1="995.10" x2="574.40" y2="999.60" stroke="#333" stroke-width="1"/>
<line x1="499.30" y1="924.76" x2="503.80" y2="924.76" stroke="#333" stroke-width="1"/>
<text x="574.40" y="1013.90" class="tk2" text-anchor="middle">2</text>
<text x="494.20" y="928.36" class="tk2" text-anchor="end">2</text>
<line x1="609.70" y1="995.10" x2="609.70" y2="999.60" stroke="#333" stroke-width="1"/>
<line x1="499.30" y1="889.59" x2="503.80" y2="889.59" stroke="#333" stroke-width="1"/>
<text x="609.70" y="1013.90" class="tk2" text-anchor="middle">3</text>
<text x="494.20" y="893.19" class="tk2" text-anchor="end">3</text>
<line x1="645.00" y1="995.10" x2="645.00" y2="999.60" stroke="#333" stroke-width="1"/>
<line x1="499.30" y1="854.42" x2="503.80" y2="854.42" stroke="#333" stroke-width="1"/>
<text x="645.00" y="1013.90" class="tk2" text-anchor="middle">4</text>
<text x="494.20" y="858.02" class="tk2" text-anchor="end">4</text>
<line x1="680.30" y1="995.10" x2="680.30" y2="999.60" stroke="#333" stroke-width="1"/>
<line x1="499.30" y1="819.25" x2="503.80" y2="819.25" stroke="#333" stroke-width="1"/>
<text x="680.30" y="1013.90" class="tk2" text-anchor="middle">5</text>
<text x="494.20" y="822.85" class="tk2" text-anchor="end">5</text>
<circle cx="544.20" cy="950.04" r="2.05" fill="none" stroke="#22a8da" stroke-width="1.35"/>
<circle cx="545.40" cy="950.04" r="2.05" fill="none" stroke="#22a8da" stroke-width="1.35"/>
<circle cx="543.60" cy="951.08" r="2.05" fill="none" stroke="#22a8da" stroke-width="1.35"/>
<circle cx="544.80" cy="951.08" r="2.05" fill="none" stroke="#22a8da" stroke-width="1.35"/>
<circle cx="543.00" cy="952.12" r="2.05" fill="none" stroke="#22a8da" stroke-width="1.35"/>
<circle cx="544.20" cy="952.12" r="2.05" fill="none" stroke="#22a8da" stroke-width="1.35"/>
<circle cx="545.40" cy="952.12" r="2.05" fill="none" stroke="#22a8da" stroke-width="1.35"/>
<circle cx="542.40" cy="953.16" r="2.05" fill="none" stroke="#22a8da" stroke-width="1.35"/>
<circle cx="543.60" cy="953.16" r="2.05" fill="none" stroke="#22a8da" stroke-width="1.35"/>
<circle cx="541.80" cy="954.20" r="2.05" fill="none" stroke="#22a8da" stroke-width="1.35"/>
<circle cx="543.00" cy="954.20" r="2.05" fill="none" stroke="#22a8da" stroke-width="1.35"/>
<circle cx="541.20" cy="955.24" r="2.05" fill="none" stroke="#22a8da" stroke-width="1.35"/>
<circle cx="542.40" cy="955.24" r="2.05" fill="none" stroke="#22a8da" stroke-width="1.35"/>
<circle cx="540.60" cy="956.27" r="2.05" fill="none" stroke="#22a8da" stroke-width="1.35"/>
<circle cx="541.80" cy="956.27" r="2.05" fill="none" stroke="#22a8da" stroke-width="1.35"/>
<circle cx="541.20" cy="957.31" r="2.05" fill="none" stroke="#22a8da" stroke-width="1.35"/>
<circle cx="553.60" cy="938.04" r="2.05" fill="none" stroke="#e0de38" stroke-width="1.35"/>
<circle cx="553.00" cy="939.08" r="2.05" fill="none" stroke="#e0de38" stroke-width="1.35"/>
<circle cx="551.20" cy="940.12" r="2.05" fill="none" stroke="#e0de38" stroke-width="1.35"/>
<circle cx="552.40" cy="940.12" r="2.05" fill="none" stroke="#e0de38" stroke-width="1.35"/>
<circle cx="550.60" cy="941.16" r="2.05" fill="none" stroke="#e0de38" stroke-width="1.35"/>
<circle cx="550.00" cy="942.20" r="2.05" fill="none" stroke="#e0de38" stroke-width="1.35"/>
<circle cx="549.40" cy="943.24" r="2.05" fill="none" stroke="#e0de38" stroke-width="1.35"/>
<circle cx="548.80" cy="944.27" r="2.05" fill="none" stroke="#e0de38" stroke-width="1.35"/>
<circle cx="548.20" cy="945.31" r="2.05" fill="none" stroke="#e0de38" stroke-width="1.35"/>
<circle cx="539.20" cy="957.90" r="2.05" fill="none" stroke="#22a8da" stroke-width="1.35"/>
<circle cx="541.80" cy="954.60" r="2.05" fill="none" stroke="#22a8da" stroke-width="1.35"/>
<circle cx="544.50" cy="950.70" r="2.05" fill="none" stroke="#22a8da" stroke-width="1.35"/>
<circle cx="545.80" cy="948.00" r="2.05" fill="none" stroke="#22a8da" stroke-width="1.35"/>
<circle cx="540.50" cy="959.20" r="2.05" fill="none" stroke="#22a8da" stroke-width="1.35"/>
<circle cx="543.10" cy="956.60" r="2.05" fill="none" stroke="#22a8da" stroke-width="1.35"/>
<circle cx="542.00" cy="958.00" r="2.05" fill="none" stroke="#22a8da" stroke-width="1.35"/>
<circle cx="544.00" cy="953.00" r="2.05" fill="none" stroke="#22a8da" stroke-width="1.35"/>
<circle cx="547.70" cy="944.10" r="2.05" fill="none" stroke="#e0de38" stroke-width="1.35"/>
<circle cx="550.40" cy="941.50" r="2.05" fill="none" stroke="#e0de38" stroke-width="1.35"/>
<circle cx="554.30" cy="937.50" r="2.05" fill="none" stroke="#e0de38" stroke-width="1.35"/>
<circle cx="556.30" cy="934.90" r="2.05" fill="none" stroke="#e0de38" stroke-width="1.35"/>
<circle cx="549.70" cy="949.40" r="2.05" fill="none" stroke="#e0de38" stroke-width="1.35"/>
<circle cx="552.00" cy="940.00" r="2.05" fill="none" stroke="#e0de38" stroke-width="1.35"/>
<circle cx="558.90" cy="932.90" r="2.05" fill="none" stroke="#da6538" stroke-width="1.35"/>
<circle cx="562.20" cy="929.00" r="2.05" fill="none" stroke="#da6538" stroke-width="1.35"/>
<circle cx="564.20" cy="927.70" r="2.05" fill="none" stroke="#da6538" stroke-width="1.35"/>
<circle cx="568.10" cy="925.00" r="2.05" fill="none" stroke="#da6538" stroke-width="1.35"/>
<circle cx="565.50" cy="928.30" r="2.05" fill="none" stroke="#da6538" stroke-width="1.35"/>
<circle cx="570.70" cy="915.20" r="2.05" fill="none" stroke="#da6538" stroke-width="1.35"/>
<circle cx="571.40" cy="917.80" r="2.05" fill="none" stroke="#da6538" stroke-width="1.35"/>
<circle cx="572.00" cy="913.90" r="2.05" fill="none" stroke="#da6538" stroke-width="1.35"/>
<circle cx="573.40" cy="916.50" r="2.05" fill="none" stroke="#da6538" stroke-width="1.35"/>
<circle cx="560.00" cy="931.00" r="2.05" fill="none" stroke="#da6538" stroke-width="1.35"/>
<circle cx="575.30" cy="912.60" r="2.05" fill="none" stroke="#d87aae" stroke-width="1.35"/>
<circle cx="580.60" cy="906.00" r="2.05" fill="none" stroke="#d87aae" stroke-width="1.35"/>
<circle cx="583.20" cy="899.40" r="2.05" fill="none" stroke="#d87aae" stroke-width="1.35"/>
<circle cx="585.20" cy="896.80" r="2.05" fill="none" stroke="#d87aae" stroke-width="1.35"/>
<circle cx="587.80" cy="902.70" r="2.05" fill="none" stroke="#d87aae" stroke-width="1.35"/>
<circle cx="589.40" cy="892.90" r="2.05" fill="none" stroke="#d87aae" stroke-width="1.35"/>
<circle cx="600.60" cy="880.40" r="2.05" fill="none" stroke="#d87aae" stroke-width="1.35"/>
<circle cx="604.90" cy="873.10" r="2.05" fill="none" stroke="#d87aae" stroke-width="1.35"/>
<circle cx="608.20" cy="872.50" r="2.05" fill="none" stroke="#d87aae" stroke-width="1.35"/>
<circle cx="611.50" cy="871.80" r="2.05" fill="none" stroke="#d87aae" stroke-width="1.35"/>
<line x1="503.80" y1="995.10" x2="680.30" y2="819.25" stroke="#222" stroke-width="1.1"/>
<text x="591.35" y="819.40" class="ti2" text-anchor="middle">LUSC</text>
<text x="682.80" y="982.10" class="pv" text-anchor="end"><tspan font-style="italic">P</tspan> &lt; 0.0001</text>
<text x="591.95" y="1033.20" class="ax2" text-anchor="middle">TCW enrichment</text>
<rect x="552.42" y="1035.10" width="7.88" height="0.95" fill="#333"/>
<text transform="translate(476.80,906.80) rotate(-90)" class="ax3" text-anchor="middle">TCA enrichment</text>
<rect x="478.50" y="936.59" width="0.95" height="8.02" fill="#333"/>
<text transform="translate(1.130,20.745) scale(0.2066,0.2545)" style="font-family:'Liberation Sans',sans-serif;font-weight:bold;font-size:100px;fill:#111">a</text>
<text transform="translate(234.076,21.000) scale(0.2320,0.2486)" style="font-family:'Liberation Sans',sans-serif;font-weight:bold;font-size:100px;fill:#111">b</text>
<text transform="translate(465.910,20.945) scale(0.2224,0.2545)" style="font-family:'Liberation Sans',sans-serif;font-weight:bold;font-size:100px;fill:#111">c</text>
<text transform="translate(1.008,302.800) scale(0.2406,0.2589)" style="font-family:'Liberation Sans',sans-serif;font-weight:bold;font-size:100px;fill:#111">d</text>
<text transform="translate(233.650,302.349) scale(0.2375,0.2509)" style="font-family:'Liberation Sans',sans-serif;font-weight:bold;font-size:100px;fill:#111">e</text>
<text transform="translate(465.590,302.600) scale(0.2548,0.2548)" style="font-family:'Liberation Sans',sans-serif;font-weight:bold;font-size:100px;fill:#111">f</text>
<text transform="translate(0.498,582.864) scale(0.2674,0.2493)" style="font-family:'Liberation Serif',serif;font-weight:bold;font-size:100px;fill:#111">g</text>
<text transform="translate(233.838,583.600) scale(0.2375,0.2548)" style="font-family:'Liberation Sans',sans-serif;font-weight:bold;font-size:100px;fill:#111">h</text>
<text transform="translate(466.250,583.400) scale(0.2357,0.2548)" style="font-family:'Liberation Sans',sans-serif;font-weight:bold;font-size:100px;fill:#111">i</text>
<text transform="translate(1.613,822.650) scale(0.2565,0.2500)" style="font-family:'Liberation Sans',sans-serif;font-weight:bold;font-size:100px;fill:#111">j</text>
<text transform="translate(233.796,823.000) scale(0.2292,0.2493)" style="font-family:'Liberation Sans',sans-serif;font-weight:bold;font-size:100px;fill:#111">k</text>
<text transform="translate(466.250,823.000) scale(0.2357,0.2493)" style="font-family:'Liberation Sans',sans-serif;font-weight:bold;font-size:100px;fill:#111">l</text>
<circle cx="159.8" cy="1053.9" r="3.9" fill="none" stroke="#22a8da" stroke-width="1.7"/>
<text x="171.6" y="1058" class="lg">1st quartile</text>
<circle cx="268.3" cy="1053.9" r="3.9" fill="none" stroke="#e0de38" stroke-width="1.7"/>
<text x="278.4" y="1058" class="lg">2nd quartile</text>
<circle cx="380.0" cy="1053.9" r="3.9" fill="none" stroke="#da6538" stroke-width="1.7"/>
<text x="390.6" y="1058" class="lg">3rd quartile</text>
<circle cx="488.8" cy="1053.9" r="3.9" fill="none" stroke="#d87aae" stroke-width="1.7"/>
<text x="500.2" y="1058" class="lg">4th quartile</text>
</svg></body></html>
